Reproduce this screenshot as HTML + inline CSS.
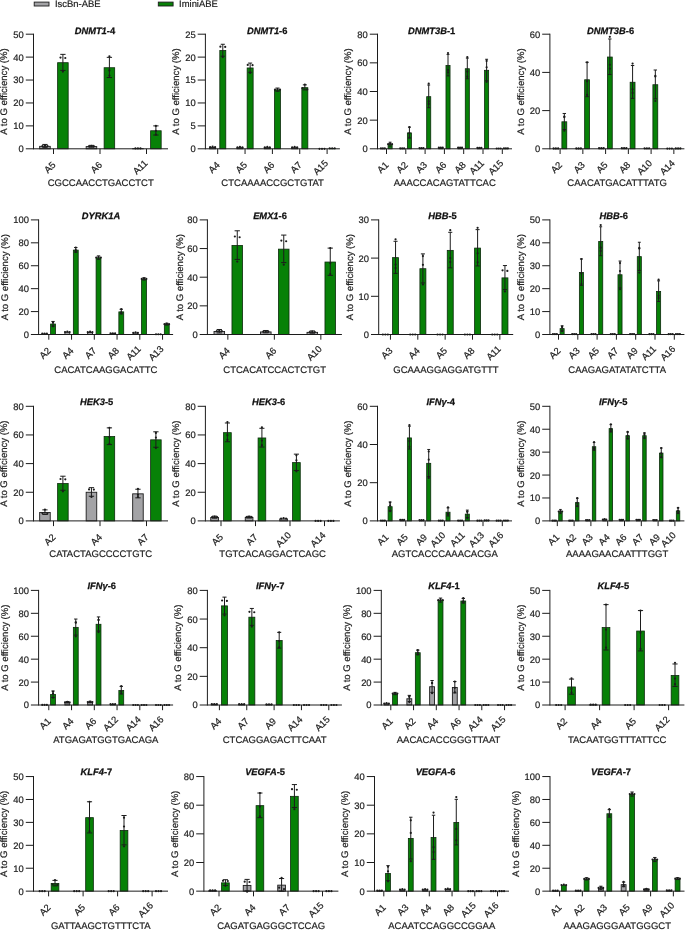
<!DOCTYPE html>
<html lang="en">
<head>
<meta charset="utf-8">
<title>A to G efficiency: IscBn-ABE vs IminiABE</title>
<style>
html,body{margin:0;padding:0;background:#fff;}
body{width:685px;height:930px;overflow:hidden;}
svg{display:block;}
text{text-rendering:geometricPrecision;}
.t{font-family:"Liberation Sans",Arial,sans-serif;font-size:9.42px;fill:#222222;stroke:#222222;stroke-width:0.2px;}
.tb{font-family:"Liberation Sans",Arial,sans-serif;font-size:9.33px;font-weight:bold;fill:#111;stroke:#111;stroke-width:0.25px;}
</style>
</head>
<body>
<svg width="685" height="930" viewBox="0 0 685 930">
<rect width="685" height="930" fill="#fff"/>
<g>
<rect x="34.2" y="2.1" width="14.8" height="3.9" fill="#a3a3a6" stroke="#1c1c1c" stroke-width="0.9"/>
<text x="55" y="7" class="t">IscBn-ABE</text>
<rect x="158.3" y="2.1" width="14.8" height="3.9" fill="#078107" stroke="#1c1c1c" stroke-width="0.9"/>
<text x="179.1" y="7" class="t">IminiABE</text>
</g>
<g>
<rect x="39.67" y="146.35" width="10.56" height="2.45" fill="#a3a3a6" stroke="#1c1c1c" stroke-width="0.9"/>
<path d="M44.95 144.45V147.65M42.3 144.45H47.6M42.3 147.65H47.6" stroke="#1c1c1c" stroke-width="1" fill="none"/>
<circle cx="42.45" cy="146.05" r="1.1" fill="#1c1c1c"/>
<circle cx="44.95" cy="145.55" r="1.1" fill="#1c1c1c"/>
<circle cx="47.45" cy="146.05" r="1.1" fill="#1c1c1c"/>
<rect x="57.62" y="62.69" width="10.56" height="86.11" fill="#078107" stroke="#0d2a0d" stroke-width="0.8"/>
<path d="M62.9 54.37V70.41M60.25 54.37H65.55M60.25 70.41H65.55" stroke="#1c1c1c" stroke-width="1" fill="none"/>
<circle cx="60.5" cy="57.58" r="1.1" fill="#1c1c1c"/>
<circle cx="65.3" cy="57.98" r="1.1" fill="#1c1c1c"/>
<circle cx="62.9" cy="71.62" r="1.1" fill="#1c1c1c"/>
<rect x="86.17" y="146.58" width="10.56" height="2.22" fill="#a3a3a6" stroke="#1c1c1c" stroke-width="0.9"/>
<path d="M91.45 145.36V147.2M88.8 145.36H94.1M88.8 147.2H94.1" stroke="#1c1c1c" stroke-width="1" fill="none"/>
<circle cx="88.95" cy="146.28" r="1.1" fill="#1c1c1c"/>
<circle cx="91.45" cy="145.78" r="1.1" fill="#1c1c1c"/>
<circle cx="93.95" cy="146.28" r="1.1" fill="#1c1c1c"/>
<rect x="104.12" y="67.73" width="10.56" height="81.07" fill="#078107" stroke="#0d2a0d" stroke-width="0.8"/>
<path d="M109.4 57.35V77.52M106.75 57.35H112.05M106.75 77.52H112.05" stroke="#1c1c1c" stroke-width="1" fill="none"/>
<circle cx="109.4" cy="56.34" r="1.1" fill="#1c1c1c"/>
<circle cx="109.4" cy="70.46" r="1.1" fill="#1c1c1c"/>
<circle cx="109.4" cy="75.5" r="1.1" fill="#1c1c1c"/>
<rect x="132.67" y="148.64" width="10.56" height="0.16" fill="#a3a3a6" stroke="#1c1c1c" stroke-width="0.9"/>
<circle cx="135.45" cy="148.34" r="1.1" fill="#1c1c1c"/>
<circle cx="137.95" cy="148.34" r="1.1" fill="#1c1c1c"/>
<circle cx="140.45" cy="148.34" r="1.1" fill="#1c1c1c"/>
<rect x="150.62" y="130.76" width="10.56" height="18.04" fill="#078107" stroke="#0d2a0d" stroke-width="0.8"/>
<path d="M155.9 125.88V135.05M153.25 125.88H158.55M153.25 135.05H158.55" stroke="#1c1c1c" stroke-width="1" fill="none"/>
<circle cx="155.9" cy="125.88" r="1.1" fill="#1c1c1c"/>
<circle cx="155.9" cy="130.92" r="1.1" fill="#1c1c1c"/>
<circle cx="155.9" cy="134.59" r="1.1" fill="#1c1c1c"/>
<path d="M33.5 33.7V149.3M25.8 148.8H168" stroke="#1c1c1c" stroke-width="1" fill="none"/>
<text x="23.8" y="152.25" text-anchor="end" class="t">0</text>
<text x="23.8" y="129.33" text-anchor="end" class="t">10</text>
<text x="23.8" y="106.41" text-anchor="end" class="t">20</text>
<text x="23.8" y="83.49" text-anchor="end" class="t">30</text>
<text x="23.8" y="60.57" text-anchor="end" class="t">40</text>
<text x="23.8" y="37.65" text-anchor="end" class="t">50</text>
<text transform="translate(56.18 165.66) rotate(-45)" text-anchor="end" class="t">A5</text>
<text transform="translate(102.68 165.66) rotate(-45)" text-anchor="end" class="t">A6</text>
<text transform="translate(148.18 163.77) rotate(-45)" text-anchor="end" class="t">A11</text>
<path d="M25.8 125.88H33.5M25.8 102.96H33.5M25.8 80.04H33.5M25.8 57.12H33.5M25.8 34.2H33.5M53.5 148.8V154M100 148.8V154M146.5 148.8V154" stroke="#1c1c1c" stroke-width="1" fill="none"/>
<text transform="translate(7.4 91.5) rotate(-90)" text-anchor="middle" class="t" style="font-size:9.55px">A to G efficiency (%)</text>
<text x="94.9" y="33.6" text-anchor="middle" class="tb"><tspan font-style="italic">DNMT1</tspan>-4</text>
<text x="100.75" y="186.3" text-anchor="middle" class="t" style="font-size:9.5px">CGCCAACCTGACCTCT</text>
</g>
<g>
<rect x="209.61" y="147.5" width="5.98" height="1.3" fill="#a3a3a6" stroke="#1c1c1c" stroke-width="0.9"/>
<circle cx="210.1" cy="147.2" r="1.1" fill="#1c1c1c"/>
<circle cx="212.6" cy="146.7" r="1.1" fill="#1c1c1c"/>
<circle cx="215.1" cy="147.2" r="1.1" fill="#1c1c1c"/>
<rect x="219.81" y="50.54" width="5.98" height="98.26" fill="#078107" stroke="#0d2a0d" stroke-width="0.8"/>
<path d="M222.8 44.28V56.2M220.76 44.28H224.84M220.76 56.2H224.84" stroke="#1c1c1c" stroke-width="1" fill="none"/>
<circle cx="220.4" cy="46.67" r="1.1" fill="#1c1c1c"/>
<circle cx="225.2" cy="46.97" r="1.1" fill="#1c1c1c"/>
<circle cx="222.8" cy="57.1" r="1.1" fill="#1c1c1c"/>
<rect x="236.96" y="147.72" width="5.98" height="1.08" fill="#a3a3a6" stroke="#1c1c1c" stroke-width="0.9"/>
<circle cx="237.45" cy="147.42" r="1.1" fill="#1c1c1c"/>
<circle cx="239.95" cy="146.92" r="1.1" fill="#1c1c1c"/>
<circle cx="242.45" cy="147.42" r="1.1" fill="#1c1c1c"/>
<rect x="247.16" y="67.96" width="5.98" height="80.84" fill="#078107" stroke="#0d2a0d" stroke-width="0.8"/>
<path d="M250.15 63.08V72.25M248.11 63.08H252.19M248.11 72.25H252.19" stroke="#1c1c1c" stroke-width="1" fill="none"/>
<circle cx="247.75" cy="64.91" r="1.1" fill="#1c1c1c"/>
<circle cx="252.55" cy="65.14" r="1.1" fill="#1c1c1c"/>
<circle cx="250.15" cy="72.93" r="1.1" fill="#1c1c1c"/>
<rect x="264.31" y="147.72" width="5.98" height="1.08" fill="#a3a3a6" stroke="#1c1c1c" stroke-width="0.9"/>
<circle cx="264.8" cy="147.42" r="1.1" fill="#1c1c1c"/>
<circle cx="267.3" cy="146.92" r="1.1" fill="#1c1c1c"/>
<circle cx="269.8" cy="147.42" r="1.1" fill="#1c1c1c"/>
<rect x="274.51" y="89.97" width="5.98" height="58.83" fill="#078107" stroke="#0d2a0d" stroke-width="0.8"/>
<path d="M277.5 88.06V91.27M275.46 88.06H279.54M275.46 91.27H279.54" stroke="#1c1c1c" stroke-width="1" fill="none"/>
<circle cx="275" cy="89.67" r="1.1" fill="#1c1c1c"/>
<circle cx="277.5" cy="89.17" r="1.1" fill="#1c1c1c"/>
<circle cx="280" cy="89.67" r="1.1" fill="#1c1c1c"/>
<rect x="291.66" y="147.72" width="5.98" height="1.08" fill="#a3a3a6" stroke="#1c1c1c" stroke-width="0.9"/>
<circle cx="292.15" cy="147.42" r="1.1" fill="#1c1c1c"/>
<circle cx="294.65" cy="146.92" r="1.1" fill="#1c1c1c"/>
<circle cx="297.15" cy="147.42" r="1.1" fill="#1c1c1c"/>
<rect x="301.86" y="87.67" width="5.98" height="61.13" fill="#078107" stroke="#0d2a0d" stroke-width="0.8"/>
<path d="M304.85 84.85V89.9M302.81 84.85H306.89M302.81 89.9H306.89" stroke="#1c1c1c" stroke-width="1" fill="none"/>
<circle cx="304.85" cy="84.6" r="1.1" fill="#1c1c1c"/>
<circle cx="302.45" cy="88.13" r="1.1" fill="#1c1c1c"/>
<circle cx="307.25" cy="89.39" r="1.1" fill="#1c1c1c"/>
<circle cx="319.5" cy="148.8" r="1.1" fill="#1c1c1c"/>
<circle cx="322" cy="148.8" r="1.1" fill="#1c1c1c"/>
<circle cx="324.5" cy="148.8" r="1.1" fill="#1c1c1c"/>
<rect x="329.21" y="148.55" width="5.98" height="0.25" fill="#078107" stroke="#0d2a0d" stroke-width="0.8"/>
<circle cx="329.7" cy="148.25" r="1.1" fill="#1c1c1c"/>
<circle cx="332.2" cy="148.25" r="1.1" fill="#1c1c1c"/>
<circle cx="334.7" cy="148.25" r="1.1" fill="#1c1c1c"/>
<path d="M205.4 33.7V149.3M197.7 148.8H339.9" stroke="#1c1c1c" stroke-width="1" fill="none"/>
<text x="195.7" y="152.25" text-anchor="end" class="t">0</text>
<text x="195.7" y="129.33" text-anchor="end" class="t">5</text>
<text x="195.7" y="106.41" text-anchor="end" class="t">10</text>
<text x="195.7" y="83.49" text-anchor="end" class="t">15</text>
<text x="195.7" y="60.57" text-anchor="end" class="t">20</text>
<text x="195.7" y="37.65" text-anchor="end" class="t">25</text>
<text transform="translate(220.38 165.66) rotate(-45)" text-anchor="end" class="t">A4</text>
<text transform="translate(247.73 165.66) rotate(-45)" text-anchor="end" class="t">A5</text>
<text transform="translate(275.08 165.66) rotate(-45)" text-anchor="end" class="t">A6</text>
<text transform="translate(302.43 165.66) rotate(-45)" text-anchor="end" class="t">A7</text>
<text transform="translate(328.78 163.77) rotate(-45)" text-anchor="end" class="t">A15</text>
<path d="M197.7 125.88H205.4M197.7 102.96H205.4M197.7 80.04H205.4M197.7 57.12H205.4M197.7 34.2H205.4M217.7 148.8V154M245.05 148.8V154M272.4 148.8V154M299.75 148.8V154M327.1 148.8V154" stroke="#1c1c1c" stroke-width="1" fill="none"/>
<text transform="translate(179.3 91.5) rotate(-90)" text-anchor="middle" class="t" style="font-size:9.55px">A to G efficiency (%)</text>
<text x="267.2" y="33.6" text-anchor="middle" class="tb"><tspan font-style="italic">DNMT1</tspan>-6</text>
<text x="272.65" y="186.3" text-anchor="middle" class="t" style="font-size:9.5px">CTCAAAACCGCTGTAT</text>
</g>
<g>
<rect x="380.86" y="148.67" width="4.06" height="0.13" fill="#a3a3a6" stroke="#1c1c1c" stroke-width="0.9"/>
<circle cx="380.93" cy="148.37" r="1.1" fill="#1c1c1c"/>
<circle cx="382.89" cy="148.37" r="1.1" fill="#1c1c1c"/>
<circle cx="384.84" cy="148.37" r="1.1" fill="#1c1c1c"/>
<rect x="388.08" y="144.52" width="4.06" height="4.28" fill="#078107" stroke="#0d2a0d" stroke-width="0.8"/>
<path d="M390.11 142.21V146.22M388.67 142.21H391.56M388.67 146.22H391.56" stroke="#1c1c1c" stroke-width="1" fill="none"/>
<circle cx="388.16" cy="144.22" r="1.1" fill="#1c1c1c"/>
<circle cx="390.11" cy="143.72" r="1.1" fill="#1c1c1c"/>
<circle cx="392.07" cy="144.22" r="1.1" fill="#1c1c1c"/>
<rect x="400.16" y="148.67" width="4.06" height="0.13" fill="#a3a3a6" stroke="#1c1c1c" stroke-width="0.9"/>
<circle cx="400.23" cy="148.37" r="1.1" fill="#1c1c1c"/>
<circle cx="402.19" cy="148.37" r="1.1" fill="#1c1c1c"/>
<circle cx="404.14" cy="148.37" r="1.1" fill="#1c1c1c"/>
<rect x="407.38" y="132.91" width="4.06" height="15.89" fill="#078107" stroke="#0d2a0d" stroke-width="0.8"/>
<path d="M409.41 127.17V138.06M407.97 127.17H410.86M407.97 138.06H410.86" stroke="#1c1c1c" stroke-width="1" fill="none"/>
<circle cx="409.41" cy="127.17" r="1.1" fill="#1c1c1c"/>
<circle cx="409.41" cy="133.16" r="1.1" fill="#1c1c1c"/>
<circle cx="409.41" cy="137.51" r="1.1" fill="#1c1c1c"/>
<rect x="419.46" y="148.38" width="4.06" height="0.42" fill="#a3a3a6" stroke="#1c1c1c" stroke-width="0.9"/>
<circle cx="419.53" cy="148.08" r="1.1" fill="#1c1c1c"/>
<circle cx="421.49" cy="148.08" r="1.1" fill="#1c1c1c"/>
<circle cx="423.44" cy="148.08" r="1.1" fill="#1c1c1c"/>
<rect x="426.68" y="96.67" width="4.06" height="52.13" fill="#078107" stroke="#0d2a0d" stroke-width="0.8"/>
<path d="M428.71 85.05V107.69M427.27 85.05H430.16M427.27 107.69H430.16" stroke="#1c1c1c" stroke-width="1" fill="none"/>
<circle cx="428.71" cy="83.7" r="1.1" fill="#1c1c1c"/>
<circle cx="428.71" cy="101.46" r="1.1" fill="#1c1c1c"/>
<circle cx="428.71" cy="103.95" r="1.1" fill="#1c1c1c"/>
<rect x="438.76" y="147.95" width="4.06" height="0.85" fill="#a3a3a6" stroke="#1c1c1c" stroke-width="0.9"/>
<circle cx="438.83" cy="147.65" r="1.1" fill="#1c1c1c"/>
<circle cx="440.79" cy="147.65" r="1.1" fill="#1c1c1c"/>
<circle cx="442.74" cy="147.65" r="1.1" fill="#1c1c1c"/>
<rect x="445.98" y="65.44" width="4.06" height="83.36" fill="#078107" stroke="#0d2a0d" stroke-width="0.8"/>
<path d="M448.01 54.4V75.89M446.57 54.4H449.46M446.57 75.89H449.46" stroke="#1c1c1c" stroke-width="1" fill="none"/>
<circle cx="448.01" cy="53.11" r="1.1" fill="#1c1c1c"/>
<circle cx="448.01" cy="69.98" r="1.1" fill="#1c1c1c"/>
<circle cx="448.01" cy="72.34" r="1.1" fill="#1c1c1c"/>
<rect x="458.06" y="147.95" width="4.06" height="0.85" fill="#a3a3a6" stroke="#1c1c1c" stroke-width="0.9"/>
<circle cx="458.13" cy="147.65" r="1.1" fill="#1c1c1c"/>
<circle cx="460.09" cy="147.65" r="1.1" fill="#1c1c1c"/>
<circle cx="462.04" cy="147.65" r="1.1" fill="#1c1c1c"/>
<rect x="465.28" y="68.74" width="4.06" height="80.06" fill="#078107" stroke="#0d2a0d" stroke-width="0.8"/>
<path d="M467.31 58.12V78.75M465.87 58.12H468.76M465.87 78.75H468.76" stroke="#1c1c1c" stroke-width="1" fill="none"/>
<circle cx="467.31" cy="57.09" r="1.1" fill="#1c1c1c"/>
<circle cx="467.31" cy="71.53" r="1.1" fill="#1c1c1c"/>
<circle cx="467.31" cy="76.69" r="1.1" fill="#1c1c1c"/>
<rect x="477.36" y="148.1" width="4.06" height="0.7" fill="#a3a3a6" stroke="#1c1c1c" stroke-width="0.9"/>
<circle cx="477.43" cy="147.8" r="1.1" fill="#1c1c1c"/>
<circle cx="479.39" cy="147.8" r="1.1" fill="#1c1c1c"/>
<circle cx="481.34" cy="147.8" r="1.1" fill="#1c1c1c"/>
<rect x="484.58" y="70.31" width="4.06" height="78.49" fill="#078107" stroke="#0d2a0d" stroke-width="0.8"/>
<path d="M486.61 59.27V80.76M485.17 59.27H488.06M485.17 80.76H488.06" stroke="#1c1c1c" stroke-width="1" fill="none"/>
<circle cx="486.61" cy="60.88" r="1.1" fill="#1c1c1c"/>
<circle cx="486.61" cy="67.33" r="1.1" fill="#1c1c1c"/>
<circle cx="486.61" cy="81.83" r="1.1" fill="#1c1c1c"/>
<rect x="496.66" y="148.81" width="4.06" height="-0.01" fill="#a3a3a6" stroke="#1c1c1c" stroke-width="0.9"/>
<circle cx="496.73" cy="148.51" r="1.1" fill="#1c1c1c"/>
<circle cx="498.69" cy="148.51" r="1.1" fill="#1c1c1c"/>
<circle cx="500.64" cy="148.51" r="1.1" fill="#1c1c1c"/>
<rect x="503.88" y="148.67" width="4.06" height="0.13" fill="#078107" stroke="#0d2a0d" stroke-width="0.8"/>
<circle cx="503.96" cy="148.37" r="1.1" fill="#1c1c1c"/>
<circle cx="505.91" cy="148.37" r="1.1" fill="#1c1c1c"/>
<circle cx="507.87" cy="148.37" r="1.1" fill="#1c1c1c"/>
<path d="M377.5 33.7V149.3M369.8 148.8H512" stroke="#1c1c1c" stroke-width="1" fill="none"/>
<text x="367.8" y="152.25" text-anchor="end" class="t">0</text>
<text x="367.8" y="123.6" text-anchor="end" class="t">20</text>
<text x="367.8" y="94.95" text-anchor="end" class="t">40</text>
<text x="367.8" y="66.3" text-anchor="end" class="t">60</text>
<text x="367.8" y="37.65" text-anchor="end" class="t">80</text>
<text transform="translate(389.18 165.66) rotate(-45)" text-anchor="end" class="t">A1</text>
<text transform="translate(408.48 165.66) rotate(-45)" text-anchor="end" class="t">A2</text>
<text transform="translate(427.78 165.66) rotate(-45)" text-anchor="end" class="t">A3</text>
<text transform="translate(447.08 165.66) rotate(-45)" text-anchor="end" class="t">A6</text>
<text transform="translate(466.38 165.66) rotate(-45)" text-anchor="end" class="t">A8</text>
<text transform="translate(484.68 163.77) rotate(-45)" text-anchor="end" class="t">A11</text>
<text transform="translate(503.98 163.77) rotate(-45)" text-anchor="end" class="t">A15</text>
<path d="M369.8 120.15H377.5M369.8 91.5H377.5M369.8 62.85H377.5M369.8 34.2H377.5M386.5 148.8V154M405.8 148.8V154M425.1 148.8V154M444.4 148.8V154M463.7 148.8V154M483 148.8V154M502.3 148.8V154" stroke="#1c1c1c" stroke-width="1" fill="none"/>
<text transform="translate(351.4 91.5) rotate(-90)" text-anchor="middle" class="t" style="font-size:9.55px">A to G efficiency (%)</text>
<text x="431.6" y="33.6" text-anchor="middle" class="tb"><tspan font-style="italic">DNMT3B</tspan>-1</text>
<text x="444.75" y="186.3" text-anchor="middle" class="t" style="font-size:9.5px">AAACCACAGTATTCAC</text>
</g>
<g>
<rect x="553.44" y="148.72" width="4.86" height="0.08" fill="#a3a3a6" stroke="#1c1c1c" stroke-width="0.9"/>
<circle cx="553.58" cy="148.42" r="1.1" fill="#1c1c1c"/>
<circle cx="555.87" cy="148.42" r="1.1" fill="#1c1c1c"/>
<circle cx="558.16" cy="148.42" r="1.1" fill="#1c1c1c"/>
<rect x="561.9" y="121.79" width="4.86" height="27.01" fill="#078107" stroke="#0d2a0d" stroke-width="0.8"/>
<path d="M564.33 113.47V129.51M562.64 113.47H566.02M562.64 129.51H566.02" stroke="#1c1c1c" stroke-width="1" fill="none"/>
<circle cx="564.33" cy="116.67" r="1.1" fill="#1c1c1c"/>
<circle cx="564.33" cy="117.07" r="1.1" fill="#1c1c1c"/>
<circle cx="564.33" cy="130.71" r="1.1" fill="#1c1c1c"/>
<rect x="576.19" y="148.72" width="4.86" height="0.08" fill="#a3a3a6" stroke="#1c1c1c" stroke-width="0.9"/>
<circle cx="576.33" cy="148.42" r="1.1" fill="#1c1c1c"/>
<circle cx="578.62" cy="148.42" r="1.1" fill="#1c1c1c"/>
<circle cx="580.91" cy="148.42" r="1.1" fill="#1c1c1c"/>
<rect x="584.65" y="79.77" width="4.86" height="69.03" fill="#078107" stroke="#0d2a0d" stroke-width="0.8"/>
<path d="M587.08 62.28V96.66M585.39 62.28H588.77M585.39 96.66H588.77" stroke="#1c1c1c" stroke-width="1" fill="none"/>
<circle cx="587.08" cy="62.28" r="1.1" fill="#1c1c1c"/>
<circle cx="587.08" cy="81.19" r="1.1" fill="#1c1c1c"/>
<circle cx="587.08" cy="94.94" r="1.1" fill="#1c1c1c"/>
<rect x="598.94" y="148.34" width="4.86" height="0.46" fill="#a3a3a6" stroke="#1c1c1c" stroke-width="0.9"/>
<circle cx="599.08" cy="148.04" r="1.1" fill="#1c1c1c"/>
<circle cx="601.37" cy="148.04" r="1.1" fill="#1c1c1c"/>
<circle cx="603.66" cy="148.04" r="1.1" fill="#1c1c1c"/>
<rect x="607.4" y="57.04" width="4.86" height="91.76" fill="#078107" stroke="#0d2a0d" stroke-width="0.8"/>
<path d="M609.83 38.98V74.5M608.14 38.98H611.52M608.14 74.5H611.52" stroke="#1c1c1c" stroke-width="1" fill="none"/>
<circle cx="609.83" cy="36.84" r="1.1" fill="#1c1c1c"/>
<circle cx="609.83" cy="64.73" r="1.1" fill="#1c1c1c"/>
<circle cx="609.83" cy="68.64" r="1.1" fill="#1c1c1c"/>
<rect x="621.69" y="148.34" width="4.86" height="0.46" fill="#a3a3a6" stroke="#1c1c1c" stroke-width="0.9"/>
<circle cx="621.83" cy="148.04" r="1.1" fill="#1c1c1c"/>
<circle cx="624.12" cy="148.04" r="1.1" fill="#1c1c1c"/>
<circle cx="626.41" cy="148.04" r="1.1" fill="#1c1c1c"/>
<rect x="630.15" y="82.25" width="4.86" height="66.55" fill="#078107" stroke="#0d2a0d" stroke-width="0.8"/>
<path d="M632.58 65.52V98.38M630.89 65.52H634.27M630.89 98.38H634.27" stroke="#1c1c1c" stroke-width="1" fill="none"/>
<circle cx="632.58" cy="63.55" r="1.1" fill="#1c1c1c"/>
<circle cx="632.58" cy="89.34" r="1.1" fill="#1c1c1c"/>
<circle cx="632.58" cy="92.96" r="1.1" fill="#1c1c1c"/>
<rect x="644.44" y="148.53" width="4.86" height="0.27" fill="#a3a3a6" stroke="#1c1c1c" stroke-width="0.9"/>
<circle cx="644.58" cy="148.23" r="1.1" fill="#1c1c1c"/>
<circle cx="646.87" cy="148.23" r="1.1" fill="#1c1c1c"/>
<circle cx="649.16" cy="148.23" r="1.1" fill="#1c1c1c"/>
<rect x="652.9" y="84.73" width="4.86" height="64.07" fill="#078107" stroke="#0d2a0d" stroke-width="0.8"/>
<path d="M655.33 70.01V98.85M653.64 70.01H657.02M653.64 98.85H657.02" stroke="#1c1c1c" stroke-width="1" fill="none"/>
<circle cx="655.33" cy="75.78" r="1.1" fill="#1c1c1c"/>
<circle cx="655.33" cy="76.5" r="1.1" fill="#1c1c1c"/>
<circle cx="655.33" cy="101.02" r="1.1" fill="#1c1c1c"/>
<circle cx="667.33" cy="148.61" r="1.1" fill="#1c1c1c"/>
<circle cx="669.62" cy="148.61" r="1.1" fill="#1c1c1c"/>
<circle cx="671.91" cy="148.61" r="1.1" fill="#1c1c1c"/>
<rect x="675.65" y="148.72" width="4.86" height="0.08" fill="#078107" stroke="#0d2a0d" stroke-width="0.8"/>
<circle cx="675.79" cy="148.42" r="1.1" fill="#1c1c1c"/>
<circle cx="678.08" cy="148.42" r="1.1" fill="#1c1c1c"/>
<circle cx="680.37" cy="148.42" r="1.1" fill="#1c1c1c"/>
<path d="M549.9 33.7V149.3M542.2 148.8H684.4" stroke="#1c1c1c" stroke-width="1" fill="none"/>
<text x="540.2" y="152.25" text-anchor="end" class="t">0</text>
<text x="540.2" y="114.05" text-anchor="end" class="t">20</text>
<text x="540.2" y="75.85" text-anchor="end" class="t">40</text>
<text x="540.2" y="37.65" text-anchor="end" class="t">60</text>
<text transform="translate(562.78 165.66) rotate(-45)" text-anchor="end" class="t">A2</text>
<text transform="translate(585.53 165.66) rotate(-45)" text-anchor="end" class="t">A3</text>
<text transform="translate(608.28 165.66) rotate(-45)" text-anchor="end" class="t">A5</text>
<text transform="translate(631.03 165.66) rotate(-45)" text-anchor="end" class="t">A8</text>
<text transform="translate(652.78 163.77) rotate(-45)" text-anchor="end" class="t">A10</text>
<text transform="translate(675.53 163.77) rotate(-45)" text-anchor="end" class="t">A14</text>
<path d="M542.2 110.6H549.9M542.2 72.4H549.9M542.2 34.2H549.9M560.1 148.8V154M582.85 148.8V154M605.6 148.8V154M628.35 148.8V154M651.1 148.8V154M673.85 148.8V154" stroke="#1c1c1c" stroke-width="1" fill="none"/>
<text transform="translate(523.8 91.5) rotate(-90)" text-anchor="middle" class="t" style="font-size:9.55px">A to G efficiency (%)</text>
<text x="610.5" y="33.6" text-anchor="middle" class="tb"><tspan font-style="italic">DNMT3B</tspan>-6</text>
<text x="617.15" y="186.3" text-anchor="middle" class="t" style="font-size:9.5px">CAACATGACATTTATG</text>
</g>
<g>
<rect x="42.14" y="334" width="4.86" height="0.5" fill="#a3a3a6" stroke="#1c1c1c" stroke-width="0.9"/>
<circle cx="42.28" cy="333.7" r="1.1" fill="#1c1c1c"/>
<circle cx="44.57" cy="333.7" r="1.1" fill="#1c1c1c"/>
<circle cx="46.86" cy="333.7" r="1.1" fill="#1c1c1c"/>
<rect x="50.6" y="324.03" width="4.86" height="10.47" fill="#078107" stroke="#0d2a0d" stroke-width="0.8"/>
<path d="M53.03 321.44V326.02M51.34 321.44H54.72M51.34 326.02H54.72" stroke="#1c1c1c" stroke-width="1" fill="none"/>
<circle cx="53.03" cy="322.35" r="1.1" fill="#1c1c1c"/>
<circle cx="53.03" cy="322.47" r="1.1" fill="#1c1c1c"/>
<circle cx="53.03" cy="326.36" r="1.1" fill="#1c1c1c"/>
<rect x="64.89" y="332.28" width="4.86" height="2.22" fill="#a3a3a6" stroke="#1c1c1c" stroke-width="0.9"/>
<circle cx="65.03" cy="331.98" r="1.1" fill="#1c1c1c"/>
<circle cx="67.32" cy="331.48" r="1.1" fill="#1c1c1c"/>
<circle cx="69.61" cy="331.98" r="1.1" fill="#1c1c1c"/>
<rect x="73.35" y="250.11" width="4.86" height="84.39" fill="#078107" stroke="#0d2a0d" stroke-width="0.8"/>
<path d="M75.78 247.52V252.1M74.09 247.52H77.47M74.09 252.1H77.47" stroke="#1c1c1c" stroke-width="1" fill="none"/>
<circle cx="75.78" cy="247.52" r="1.1" fill="#1c1c1c"/>
<circle cx="75.78" cy="250.04" r="1.1" fill="#1c1c1c"/>
<circle cx="75.78" cy="251.87" r="1.1" fill="#1c1c1c"/>
<rect x="87.64" y="332.51" width="4.86" height="1.99" fill="#a3a3a6" stroke="#1c1c1c" stroke-width="0.9"/>
<circle cx="87.78" cy="332.21" r="1.1" fill="#1c1c1c"/>
<circle cx="90.07" cy="331.71" r="1.1" fill="#1c1c1c"/>
<circle cx="92.36" cy="332.21" r="1.1" fill="#1c1c1c"/>
<rect x="96.1" y="257.9" width="4.86" height="76.6" fill="#078107" stroke="#0d2a0d" stroke-width="0.8"/>
<path d="M98.53 255.88V259.32M96.84 255.88H100.22M96.84 259.32H100.22" stroke="#1c1c1c" stroke-width="1" fill="none"/>
<circle cx="96.24" cy="257.6" r="1.1" fill="#1c1c1c"/>
<circle cx="98.53" cy="257.1" r="1.1" fill="#1c1c1c"/>
<circle cx="100.82" cy="257.6" r="1.1" fill="#1c1c1c"/>
<rect x="110.39" y="333.65" width="4.86" height="0.85" fill="#a3a3a6" stroke="#1c1c1c" stroke-width="0.9"/>
<circle cx="110.53" cy="333.35" r="1.1" fill="#1c1c1c"/>
<circle cx="112.82" cy="333.35" r="1.1" fill="#1c1c1c"/>
<circle cx="115.11" cy="333.35" r="1.1" fill="#1c1c1c"/>
<rect x="118.85" y="311.88" width="4.86" height="22.62" fill="#078107" stroke="#0d2a0d" stroke-width="0.8"/>
<path d="M121.28 309.29V313.87M119.59 309.29H122.97M119.59 313.87H122.97" stroke="#1c1c1c" stroke-width="1" fill="none"/>
<circle cx="121.28" cy="309.06" r="1.1" fill="#1c1c1c"/>
<circle cx="121.28" cy="312.27" r="1.1" fill="#1c1c1c"/>
<circle cx="121.28" cy="313.41" r="1.1" fill="#1c1c1c"/>
<rect x="133.14" y="333.08" width="4.86" height="1.42" fill="#a3a3a6" stroke="#1c1c1c" stroke-width="0.9"/>
<circle cx="133.28" cy="332.78" r="1.1" fill="#1c1c1c"/>
<circle cx="135.57" cy="332.28" r="1.1" fill="#1c1c1c"/>
<circle cx="137.86" cy="332.78" r="1.1" fill="#1c1c1c"/>
<rect x="141.6" y="279.22" width="4.86" height="55.28" fill="#078107" stroke="#0d2a0d" stroke-width="0.8"/>
<path d="M144.03 277.77V280.06M142.34 277.77H145.72M142.34 280.06H145.72" stroke="#1c1c1c" stroke-width="1" fill="none"/>
<circle cx="141.74" cy="278.92" r="1.1" fill="#1c1c1c"/>
<circle cx="144.03" cy="278.42" r="1.1" fill="#1c1c1c"/>
<circle cx="146.32" cy="278.92" r="1.1" fill="#1c1c1c"/>
<circle cx="156.03" cy="334.27" r="1.1" fill="#1c1c1c"/>
<circle cx="158.32" cy="334.27" r="1.1" fill="#1c1c1c"/>
<circle cx="160.61" cy="334.27" r="1.1" fill="#1c1c1c"/>
<rect x="164.35" y="324.49" width="4.86" height="10.01" fill="#078107" stroke="#0d2a0d" stroke-width="0.8"/>
<path d="M166.78 323.27V325.1M165.09 323.27H168.47M165.09 325.1H168.47" stroke="#1c1c1c" stroke-width="1" fill="none"/>
<circle cx="164.49" cy="324.19" r="1.1" fill="#1c1c1c"/>
<circle cx="166.78" cy="323.69" r="1.1" fill="#1c1c1c"/>
<circle cx="169.07" cy="324.19" r="1.1" fill="#1c1c1c"/>
<path d="M38.6 219.4V335M30.9 334.5H173.1" stroke="#1c1c1c" stroke-width="1" fill="none"/>
<text x="28.9" y="337.95" text-anchor="end" class="t">0</text>
<text x="28.9" y="315.03" text-anchor="end" class="t">20</text>
<text x="28.9" y="292.11" text-anchor="end" class="t">40</text>
<text x="28.9" y="269.19" text-anchor="end" class="t">60</text>
<text x="28.9" y="246.27" text-anchor="end" class="t">80</text>
<text x="28.9" y="223.35" text-anchor="end" class="t">100</text>
<text transform="translate(51.48 351.36) rotate(-45)" text-anchor="end" class="t">A2</text>
<text transform="translate(74.23 351.36) rotate(-45)" text-anchor="end" class="t">A4</text>
<text transform="translate(96.98 351.36) rotate(-45)" text-anchor="end" class="t">A7</text>
<text transform="translate(119.73 351.36) rotate(-45)" text-anchor="end" class="t">A8</text>
<text transform="translate(141.48 349.47) rotate(-45)" text-anchor="end" class="t">A11</text>
<text transform="translate(164.23 349.47) rotate(-45)" text-anchor="end" class="t">A13</text>
<path d="M30.9 311.58H38.6M30.9 288.66H38.6M30.9 265.74H38.6M30.9 242.82H38.6M30.9 219.9H38.6M48.8 334.5V339.7M71.55 334.5V339.7M94.3 334.5V339.7M117.05 334.5V339.7M139.8 334.5V339.7M162.55 334.5V339.7" stroke="#1c1c1c" stroke-width="1" fill="none"/>
<text transform="translate(7.7 277.2) rotate(-90)" text-anchor="middle" class="t" style="font-size:9.55px">A to G efficiency (%)</text>
<text x="101" y="219.3" text-anchor="middle" class="tb"><tspan font-style="italic">DYRK1A</tspan></text>
<text x="105.85" y="372.5" text-anchor="middle" class="t" style="font-size:9.5px">CACATCAAGGACATTC</text>
</g>
<g>
<rect x="214.02" y="331.51" width="10.56" height="2.99" fill="#a3a3a6" stroke="#1c1c1c" stroke-width="0.9"/>
<path d="M219.3 329.49V332.92M216.65 329.49H221.95M216.65 332.92H221.95" stroke="#1c1c1c" stroke-width="1" fill="none"/>
<circle cx="216.8" cy="331.21" r="1.1" fill="#1c1c1c"/>
<circle cx="219.3" cy="330.71" r="1.1" fill="#1c1c1c"/>
<circle cx="221.8" cy="331.21" r="1.1" fill="#1c1c1c"/>
<rect x="231.97" y="245.41" width="10.56" height="89.09" fill="#078107" stroke="#0d2a0d" stroke-width="0.8"/>
<path d="M237.25 230.79V259.44M234.6 230.79H239.9M234.6 259.44H239.9" stroke="#1c1c1c" stroke-width="1" fill="none"/>
<circle cx="234.85" cy="236.52" r="1.1" fill="#1c1c1c"/>
<circle cx="239.65" cy="237.23" r="1.1" fill="#1c1c1c"/>
<circle cx="237.25" cy="261.59" r="1.1" fill="#1c1c1c"/>
<rect x="260.52" y="331.94" width="10.56" height="2.56" fill="#a3a3a6" stroke="#1c1c1c" stroke-width="0.9"/>
<path d="M265.8 330.49V332.78M263.15 330.49H268.45M263.15 332.78H268.45" stroke="#1c1c1c" stroke-width="1" fill="none"/>
<circle cx="263.3" cy="331.63" r="1.1" fill="#1c1c1c"/>
<circle cx="265.8" cy="331.13" r="1.1" fill="#1c1c1c"/>
<circle cx="268.3" cy="331.63" r="1.1" fill="#1c1c1c"/>
<rect x="278.47" y="249.14" width="10.56" height="85.36" fill="#078107" stroke="#0d2a0d" stroke-width="0.8"/>
<path d="M283.75 235.08V262.59M281.1 235.08H286.4M281.1 262.59H286.4" stroke="#1c1c1c" stroke-width="1" fill="none"/>
<circle cx="281.35" cy="240.59" r="1.1" fill="#1c1c1c"/>
<circle cx="286.15" cy="241.27" r="1.1" fill="#1c1c1c"/>
<circle cx="283.75" cy="264.65" r="1.1" fill="#1c1c1c"/>
<rect x="307.02" y="332.36" width="10.56" height="2.14" fill="#a3a3a6" stroke="#1c1c1c" stroke-width="0.9"/>
<path d="M312.3 330.92V333.21M309.65 330.92H314.95M309.65 333.21H314.95" stroke="#1c1c1c" stroke-width="1" fill="none"/>
<circle cx="309.8" cy="332.06" r="1.1" fill="#1c1c1c"/>
<circle cx="312.3" cy="331.56" r="1.1" fill="#1c1c1c"/>
<circle cx="314.8" cy="332.06" r="1.1" fill="#1c1c1c"/>
<rect x="324.97" y="262.03" width="10.56" height="72.47" fill="#078107" stroke="#0d2a0d" stroke-width="0.8"/>
<path d="M330.25 248.12V275.34M327.6 248.12H332.9M327.6 275.34H332.9" stroke="#1c1c1c" stroke-width="1" fill="none"/>
<circle cx="330.25" cy="248.12" r="1.1" fill="#1c1c1c"/>
<circle cx="330.25" cy="263.09" r="1.1" fill="#1c1c1c"/>
<circle cx="330.25" cy="273.98" r="1.1" fill="#1c1c1c"/>
<path d="M207.4 219.4V335M199.7 334.5H341.9" stroke="#1c1c1c" stroke-width="1" fill="none"/>
<text x="197.7" y="337.95" text-anchor="end" class="t">0</text>
<text x="197.7" y="309.3" text-anchor="end" class="t">20</text>
<text x="197.7" y="280.65" text-anchor="end" class="t">40</text>
<text x="197.7" y="252" text-anchor="end" class="t">60</text>
<text x="197.7" y="223.35" text-anchor="end" class="t">80</text>
<text transform="translate(230.53 351.36) rotate(-45)" text-anchor="end" class="t">A4</text>
<text transform="translate(277.03 351.36) rotate(-45)" text-anchor="end" class="t">A6</text>
<text transform="translate(322.53 349.47) rotate(-45)" text-anchor="end" class="t">A10</text>
<path d="M199.7 305.85H207.4M199.7 277.2H207.4M199.7 248.55H207.4M199.7 219.9H207.4M227.85 334.5V339.7M274.35 334.5V339.7M320.85 334.5V339.7" stroke="#1c1c1c" stroke-width="1" fill="none"/>
<text transform="translate(183.4 277.2) rotate(-90)" text-anchor="middle" class="t" style="font-size:9.55px">A to G efficiency (%)</text>
<text x="270" y="219.3" text-anchor="middle" class="tb"><tspan font-style="italic">EMX1</tspan>-6</text>
<text x="274.65" y="372.5" text-anchor="middle" class="t" style="font-size:9.5px">CTCACATCCACTCTGT</text>
</g>
<g>
<circle cx="382.85" cy="334.5" r="1.1" fill="#1c1c1c"/>
<circle cx="385.35" cy="334.5" r="1.1" fill="#1c1c1c"/>
<circle cx="387.85" cy="334.5" r="1.1" fill="#1c1c1c"/>
<rect x="392.56" y="257.64" width="5.98" height="76.86" fill="#078107" stroke="#0d2a0d" stroke-width="0.8"/>
<path d="M395.55 241.29V273.38M393.51 241.29H397.59M393.51 273.38H397.59" stroke="#1c1c1c" stroke-width="1" fill="none"/>
<circle cx="395.55" cy="239.37" r="1.1" fill="#1c1c1c"/>
<circle cx="395.55" cy="264.56" r="1.1" fill="#1c1c1c"/>
<circle cx="395.55" cy="268.09" r="1.1" fill="#1c1c1c"/>
<circle cx="410.2" cy="334.5" r="1.1" fill="#1c1c1c"/>
<circle cx="412.7" cy="334.5" r="1.1" fill="#1c1c1c"/>
<circle cx="415.2" cy="334.5" r="1.1" fill="#1c1c1c"/>
<rect x="419.91" y="268.71" width="5.98" height="65.79" fill="#078107" stroke="#0d2a0d" stroke-width="0.8"/>
<path d="M422.9 253.9V282.93M420.86 253.9H424.94M420.86 282.93H424.94" stroke="#1c1c1c" stroke-width="1" fill="none"/>
<circle cx="422.9" cy="256.08" r="1.1" fill="#1c1c1c"/>
<circle cx="422.9" cy="264.78" r="1.1" fill="#1c1c1c"/>
<circle cx="422.9" cy="284.38" r="1.1" fill="#1c1c1c"/>
<circle cx="437.55" cy="334.5" r="1.1" fill="#1c1c1c"/>
<circle cx="440.05" cy="334.5" r="1.1" fill="#1c1c1c"/>
<circle cx="442.55" cy="334.5" r="1.1" fill="#1c1c1c"/>
<rect x="447.26" y="250.38" width="5.98" height="84.12" fill="#078107" stroke="#0d2a0d" stroke-width="0.8"/>
<path d="M450.25 232.31V267.84M448.21 232.31H452.29M448.21 267.84H452.29" stroke="#1c1c1c" stroke-width="1" fill="none"/>
<circle cx="450.25" cy="230.18" r="1.1" fill="#1c1c1c"/>
<circle cx="450.25" cy="258.07" r="1.1" fill="#1c1c1c"/>
<circle cx="450.25" cy="261.98" r="1.1" fill="#1c1c1c"/>
<circle cx="464.9" cy="334.5" r="1.1" fill="#1c1c1c"/>
<circle cx="467.4" cy="334.5" r="1.1" fill="#1c1c1c"/>
<circle cx="469.9" cy="334.5" r="1.1" fill="#1c1c1c"/>
<rect x="474.61" y="248.09" width="5.98" height="86.41" fill="#078107" stroke="#0d2a0d" stroke-width="0.8"/>
<path d="M477.6 229.64V265.93M475.56 229.64H479.64M475.56 265.93H479.64" stroke="#1c1c1c" stroke-width="1" fill="none"/>
<circle cx="477.6" cy="227.83" r="1.1" fill="#1c1c1c"/>
<circle cx="477.6" cy="253.23" r="1.1" fill="#1c1c1c"/>
<circle cx="477.6" cy="262.3" r="1.1" fill="#1c1c1c"/>
<circle cx="492.25" cy="334.5" r="1.1" fill="#1c1c1c"/>
<circle cx="494.75" cy="334.5" r="1.1" fill="#1c1c1c"/>
<circle cx="497.25" cy="334.5" r="1.1" fill="#1c1c1c"/>
<rect x="501.96" y="277.88" width="5.98" height="56.62" fill="#078107" stroke="#0d2a0d" stroke-width="0.8"/>
<path d="M504.95 265.55V289.62M502.91 265.55H506.99M502.91 289.62H506.99" stroke="#1c1c1c" stroke-width="1" fill="none"/>
<circle cx="502.55" cy="270.36" r="1.1" fill="#1c1c1c"/>
<circle cx="507.35" cy="270.96" r="1.1" fill="#1c1c1c"/>
<circle cx="504.95" cy="291.42" r="1.1" fill="#1c1c1c"/>
<path d="M378.7 219.4V335M371 334.5H513.2" stroke="#1c1c1c" stroke-width="1" fill="none"/>
<text x="369" y="337.95" text-anchor="end" class="t">0</text>
<text x="369" y="299.75" text-anchor="end" class="t">10</text>
<text x="369" y="261.55" text-anchor="end" class="t">20</text>
<text x="369" y="223.35" text-anchor="end" class="t">30</text>
<text transform="translate(393.13 351.36) rotate(-45)" text-anchor="end" class="t">A3</text>
<text transform="translate(420.48 351.36) rotate(-45)" text-anchor="end" class="t">A4</text>
<text transform="translate(447.83 351.36) rotate(-45)" text-anchor="end" class="t">A5</text>
<text transform="translate(475.18 351.36) rotate(-45)" text-anchor="end" class="t">A8</text>
<text transform="translate(501.53 349.47) rotate(-45)" text-anchor="end" class="t">A11</text>
<path d="M371 296.3H378.7M371 258.1H378.7M371 219.9H378.7M390.45 334.5V339.7M417.8 334.5V339.7M445.15 334.5V339.7M472.5 334.5V339.7M499.85 334.5V339.7" stroke="#1c1c1c" stroke-width="1" fill="none"/>
<text transform="translate(352.6 277.2) rotate(-90)" text-anchor="middle" class="t" style="font-size:9.55px">A to G efficiency (%)</text>
<text x="442.5" y="219.3" text-anchor="middle" class="tb"><tspan font-style="italic">HBB</tspan>-5</text>
<text x="445.95" y="372.5" text-anchor="middle" class="t" style="font-size:9.5px">GCAAAGGAGGATGTTT</text>
</g>
<g>
<rect x="552.86" y="334.34" width="4.06" height="0.16" fill="#a3a3a6" stroke="#1c1c1c" stroke-width="0.9"/>
<circle cx="552.93" cy="334.04" r="1.1" fill="#1c1c1c"/>
<circle cx="554.89" cy="334.04" r="1.1" fill="#1c1c1c"/>
<circle cx="556.84" cy="334.04" r="1.1" fill="#1c1c1c"/>
<rect x="560.08" y="328.61" width="4.06" height="5.89" fill="#078107" stroke="#0d2a0d" stroke-width="0.8"/>
<path d="M562.11 325.79V330.83M560.67 325.79H563.56M560.67 330.83H563.56" stroke="#1c1c1c" stroke-width="1" fill="none"/>
<circle cx="562.11" cy="326.8" r="1.1" fill="#1c1c1c"/>
<circle cx="562.11" cy="326.92" r="1.1" fill="#1c1c1c"/>
<circle cx="562.11" cy="331.21" r="1.1" fill="#1c1c1c"/>
<rect x="572.16" y="334.34" width="4.06" height="0.16" fill="#a3a3a6" stroke="#1c1c1c" stroke-width="0.9"/>
<circle cx="572.23" cy="334.04" r="1.1" fill="#1c1c1c"/>
<circle cx="574.19" cy="334.04" r="1.1" fill="#1c1c1c"/>
<circle cx="576.14" cy="334.04" r="1.1" fill="#1c1c1c"/>
<rect x="579.38" y="272.46" width="4.06" height="62.04" fill="#078107" stroke="#0d2a0d" stroke-width="0.8"/>
<path d="M581.41 258.98V285.34M579.97 258.98H582.86M579.97 285.34H582.86" stroke="#1c1c1c" stroke-width="1" fill="none"/>
<circle cx="581.41" cy="258.98" r="1.1" fill="#1c1c1c"/>
<circle cx="581.41" cy="273.48" r="1.1" fill="#1c1c1c"/>
<circle cx="581.41" cy="284.02" r="1.1" fill="#1c1c1c"/>
<rect x="591.46" y="334.34" width="4.06" height="0.16" fill="#a3a3a6" stroke="#1c1c1c" stroke-width="0.9"/>
<circle cx="591.53" cy="334.04" r="1.1" fill="#1c1c1c"/>
<circle cx="593.49" cy="334.04" r="1.1" fill="#1c1c1c"/>
<circle cx="595.44" cy="334.04" r="1.1" fill="#1c1c1c"/>
<rect x="598.68" y="241.52" width="4.06" height="92.98" fill="#078107" stroke="#0d2a0d" stroke-width="0.8"/>
<path d="M600.71 226.78V255.66M599.27 226.78H602.16M599.27 255.66H602.16" stroke="#1c1c1c" stroke-width="1" fill="none"/>
<circle cx="600.71" cy="225.04" r="1.1" fill="#1c1c1c"/>
<circle cx="600.71" cy="247.71" r="1.1" fill="#1c1c1c"/>
<circle cx="600.71" cy="250.89" r="1.1" fill="#1c1c1c"/>
<rect x="610.76" y="334.34" width="4.06" height="0.16" fill="#a3a3a6" stroke="#1c1c1c" stroke-width="0.9"/>
<circle cx="610.83" cy="334.04" r="1.1" fill="#1c1c1c"/>
<circle cx="612.79" cy="334.04" r="1.1" fill="#1c1c1c"/>
<circle cx="614.74" cy="334.04" r="1.1" fill="#1c1c1c"/>
<rect x="617.98" y="274.75" width="4.06" height="59.75" fill="#078107" stroke="#0d2a0d" stroke-width="0.8"/>
<path d="M620.01 261.04V287.86M618.57 261.04H621.46M618.57 287.86H621.46" stroke="#1c1c1c" stroke-width="1" fill="none"/>
<circle cx="620.01" cy="263.05" r="1.1" fill="#1c1c1c"/>
<circle cx="620.01" cy="271.1" r="1.1" fill="#1c1c1c"/>
<circle cx="620.01" cy="289.2" r="1.1" fill="#1c1c1c"/>
<rect x="630.06" y="334.34" width="4.06" height="0.16" fill="#a3a3a6" stroke="#1c1c1c" stroke-width="0.9"/>
<circle cx="630.13" cy="334.04" r="1.1" fill="#1c1c1c"/>
<circle cx="632.09" cy="334.04" r="1.1" fill="#1c1c1c"/>
<circle cx="634.04" cy="334.04" r="1.1" fill="#1c1c1c"/>
<rect x="637.28" y="256.64" width="4.06" height="77.86" fill="#078107" stroke="#0d2a0d" stroke-width="0.8"/>
<path d="M639.31 242.25V270.44M637.87 242.25H640.76M637.87 270.44H640.76" stroke="#1c1c1c" stroke-width="1" fill="none"/>
<circle cx="639.31" cy="247.89" r="1.1" fill="#1c1c1c"/>
<circle cx="639.31" cy="248.59" r="1.1" fill="#1c1c1c"/>
<circle cx="639.31" cy="272.55" r="1.1" fill="#1c1c1c"/>
<rect x="649.36" y="334.34" width="4.06" height="0.16" fill="#a3a3a6" stroke="#1c1c1c" stroke-width="0.9"/>
<circle cx="649.43" cy="334.04" r="1.1" fill="#1c1c1c"/>
<circle cx="651.39" cy="334.04" r="1.1" fill="#1c1c1c"/>
<circle cx="653.34" cy="334.04" r="1.1" fill="#1c1c1c"/>
<rect x="656.58" y="291.48" width="4.06" height="43.02" fill="#078107" stroke="#0d2a0d" stroke-width="0.8"/>
<path d="M658.61 280.87V301.5M657.17 280.87H660.06M657.17 301.5H660.06" stroke="#1c1c1c" stroke-width="1" fill="none"/>
<circle cx="658.61" cy="279.63" r="1.1" fill="#1c1c1c"/>
<circle cx="658.61" cy="295.82" r="1.1" fill="#1c1c1c"/>
<circle cx="658.61" cy="298.09" r="1.1" fill="#1c1c1c"/>
<rect x="668.66" y="334.34" width="4.06" height="0.16" fill="#a3a3a6" stroke="#1c1c1c" stroke-width="0.9"/>
<circle cx="668.73" cy="334.04" r="1.1" fill="#1c1c1c"/>
<circle cx="670.69" cy="334.04" r="1.1" fill="#1c1c1c"/>
<circle cx="672.64" cy="334.04" r="1.1" fill="#1c1c1c"/>
<rect x="675.88" y="334.34" width="4.06" height="0.16" fill="#078107" stroke="#0d2a0d" stroke-width="0.8"/>
<circle cx="675.96" cy="334.04" r="1.1" fill="#1c1c1c"/>
<circle cx="677.91" cy="334.04" r="1.1" fill="#1c1c1c"/>
<circle cx="679.87" cy="334.04" r="1.1" fill="#1c1c1c"/>
<path d="M549.9 219.4V335M542.2 334.5H684.4" stroke="#1c1c1c" stroke-width="1" fill="none"/>
<text x="540.2" y="337.95" text-anchor="end" class="t">0</text>
<text x="540.2" y="315.03" text-anchor="end" class="t">10</text>
<text x="540.2" y="292.11" text-anchor="end" class="t">20</text>
<text x="540.2" y="269.19" text-anchor="end" class="t">30</text>
<text x="540.2" y="246.27" text-anchor="end" class="t">40</text>
<text x="540.2" y="223.35" text-anchor="end" class="t">50</text>
<text transform="translate(561.18 351.36) rotate(-45)" text-anchor="end" class="t">A2</text>
<text transform="translate(580.48 351.36) rotate(-45)" text-anchor="end" class="t">A3</text>
<text transform="translate(599.78 351.36) rotate(-45)" text-anchor="end" class="t">A5</text>
<text transform="translate(619.08 351.36) rotate(-45)" text-anchor="end" class="t">A7</text>
<text transform="translate(638.38 351.36) rotate(-45)" text-anchor="end" class="t">A9</text>
<text transform="translate(656.68 349.47) rotate(-45)" text-anchor="end" class="t">A11</text>
<text transform="translate(675.98 349.47) rotate(-45)" text-anchor="end" class="t">A16</text>
<path d="M542.2 311.58H549.9M542.2 288.66H549.9M542.2 265.74H549.9M542.2 242.82H549.9M542.2 219.9H549.9M558.5 334.5V339.7M577.8 334.5V339.7M597.1 334.5V339.7M616.4 334.5V339.7M635.7 334.5V339.7M655 334.5V339.7M674.3 334.5V339.7" stroke="#1c1c1c" stroke-width="1" fill="none"/>
<text transform="translate(523.8 277.2) rotate(-90)" text-anchor="middle" class="t" style="font-size:9.55px">A to G efficiency (%)</text>
<text x="613.8" y="219.3" text-anchor="middle" class="tb"><tspan font-style="italic">HBB</tspan>-6</text>
<text x="617.15" y="372.5" text-anchor="middle" class="t" style="font-size:9.5px">CAAGAGATATATCTTA</text>
</g>
<g>
<rect x="39.67" y="512.46" width="10.56" height="8.44" fill="#a3a3a6" stroke="#1c1c1c" stroke-width="0.9"/>
<path d="M44.95 509.87V514.45M42.3 509.87H47.6M42.3 514.45H47.6" stroke="#1c1c1c" stroke-width="1" fill="none"/>
<circle cx="44.95" cy="509.59" r="1.1" fill="#1c1c1c"/>
<circle cx="42.55" cy="513.19" r="1.1" fill="#1c1c1c"/>
<circle cx="47.35" cy="513.7" r="1.1" fill="#1c1c1c"/>
<rect x="57.62" y="483.53" width="10.56" height="37.37" fill="#078107" stroke="#0d2a0d" stroke-width="0.8"/>
<path d="M62.9 476.21V490.24M60.25 476.21H65.55M60.25 490.24H65.55" stroke="#1c1c1c" stroke-width="1" fill="none"/>
<circle cx="60.5" cy="479.01" r="1.1" fill="#1c1c1c"/>
<circle cx="65.3" cy="479.36" r="1.1" fill="#1c1c1c"/>
<circle cx="62.9" cy="491.3" r="1.1" fill="#1c1c1c"/>
<rect x="86.17" y="492.26" width="10.56" height="28.64" fill="#a3a3a6" stroke="#1c1c1c" stroke-width="0.9"/>
<path d="M91.45 487.67V496.26M88.8 487.67H94.1M88.8 496.26H94.1" stroke="#1c1c1c" stroke-width="1" fill="none"/>
<circle cx="89.05" cy="489.38" r="1.1" fill="#1c1c1c"/>
<circle cx="93.85" cy="489.6" r="1.1" fill="#1c1c1c"/>
<circle cx="91.45" cy="496.91" r="1.1" fill="#1c1c1c"/>
<rect x="104.12" y="436.54" width="10.56" height="84.36" fill="#078107" stroke="#0d2a0d" stroke-width="0.8"/>
<path d="M109.4 427.86V444.62M106.75 427.86H112.05M106.75 444.62H112.05" stroke="#1c1c1c" stroke-width="1" fill="none"/>
<circle cx="109.4" cy="427.86" r="1.1" fill="#1c1c1c"/>
<circle cx="109.4" cy="437.08" r="1.1" fill="#1c1c1c"/>
<circle cx="109.4" cy="443.78" r="1.1" fill="#1c1c1c"/>
<rect x="132.67" y="493.84" width="10.56" height="27.06" fill="#a3a3a6" stroke="#1c1c1c" stroke-width="0.9"/>
<path d="M137.95 489.24V497.84M135.3 489.24H140.6M135.3 497.84H140.6" stroke="#1c1c1c" stroke-width="1" fill="none"/>
<circle cx="137.95" cy="488.81" r="1.1" fill="#1c1c1c"/>
<circle cx="137.95" cy="494.83" r="1.1" fill="#1c1c1c"/>
<circle cx="137.95" cy="496.98" r="1.1" fill="#1c1c1c"/>
<rect x="150.62" y="439.83" width="10.56" height="81.07" fill="#078107" stroke="#0d2a0d" stroke-width="0.8"/>
<path d="M155.9 431.8V447.27M153.25 431.8H158.55M153.25 447.27H158.55" stroke="#1c1c1c" stroke-width="1" fill="none"/>
<circle cx="155.9" cy="432.96" r="1.1" fill="#1c1c1c"/>
<circle cx="155.9" cy="437.6" r="1.1" fill="#1c1c1c"/>
<circle cx="155.9" cy="448.04" r="1.1" fill="#1c1c1c"/>
<path d="M33.5 405.8V521.4M25.8 520.9H168" stroke="#1c1c1c" stroke-width="1" fill="none"/>
<text x="23.8" y="524.35" text-anchor="end" class="t">0</text>
<text x="23.8" y="495.7" text-anchor="end" class="t">20</text>
<text x="23.8" y="467.05" text-anchor="end" class="t">40</text>
<text x="23.8" y="438.4" text-anchor="end" class="t">60</text>
<text x="23.8" y="409.75" text-anchor="end" class="t">80</text>
<text transform="translate(56.18 537.76) rotate(-45)" text-anchor="end" class="t">A2</text>
<text transform="translate(102.68 537.76) rotate(-45)" text-anchor="end" class="t">A4</text>
<text transform="translate(149.18 537.76) rotate(-45)" text-anchor="end" class="t">A7</text>
<path d="M25.8 492.25H33.5M25.8 463.6H33.5M25.8 434.95H33.5M25.8 406.3H33.5M53.5 520.9V526.1M100 520.9V526.1M146.5 520.9V526.1" stroke="#1c1c1c" stroke-width="1" fill="none"/>
<text transform="translate(7.4 463.6) rotate(-90)" text-anchor="middle" class="t" style="font-size:9.55px">A to G efficiency (%)</text>
<text x="96.7" y="405.1" text-anchor="middle" class="tb"><tspan font-style="italic">HEK3</tspan>-5</text>
<text x="100.75" y="556.7" text-anchor="middle" class="t" style="font-size:9.5px">CATACTAGCCCCTGTC</text>
</g>
<g>
<rect x="210.75" y="517.48" width="7.68" height="3.42" fill="#a3a3a6" stroke="#1c1c1c" stroke-width="0.9"/>
<path d="M214.59 516.17V518.18M212.02 516.17H217.15M212.02 518.18H217.15" stroke="#1c1c1c" stroke-width="1" fill="none"/>
<circle cx="212.09" cy="517.18" r="1.1" fill="#1c1c1c"/>
<circle cx="214.59" cy="516.68" r="1.1" fill="#1c1c1c"/>
<circle cx="217.09" cy="517.18" r="1.1" fill="#1c1c1c"/>
<rect x="223.58" y="432.67" width="7.68" height="88.23" fill="#078107" stroke="#0d2a0d" stroke-width="0.8"/>
<path d="M227.41 422.99V441.75M224.85 422.99H229.98M224.85 441.75H229.98" stroke="#1c1c1c" stroke-width="1" fill="none"/>
<circle cx="227.41" cy="422.05" r="1.1" fill="#1c1c1c"/>
<circle cx="227.41" cy="435.19" r="1.1" fill="#1c1c1c"/>
<circle cx="227.41" cy="439.88" r="1.1" fill="#1c1c1c"/>
<rect x="245.25" y="517.48" width="7.68" height="3.42" fill="#a3a3a6" stroke="#1c1c1c" stroke-width="0.9"/>
<path d="M249.09 516.32V518.03M246.52 516.32H251.65M246.52 518.03H251.65" stroke="#1c1c1c" stroke-width="1" fill="none"/>
<circle cx="246.59" cy="517.18" r="1.1" fill="#1c1c1c"/>
<circle cx="249.09" cy="516.68" r="1.1" fill="#1c1c1c"/>
<circle cx="251.59" cy="517.18" r="1.1" fill="#1c1c1c"/>
<rect x="258.08" y="437.97" width="7.68" height="82.93" fill="#078107" stroke="#0d2a0d" stroke-width="0.8"/>
<path d="M261.91 428.29V447.05M259.35 428.29H264.48M259.35 447.05H264.48" stroke="#1c1c1c" stroke-width="1" fill="none"/>
<circle cx="261.91" cy="427.35" r="1.1" fill="#1c1c1c"/>
<circle cx="261.91" cy="440.49" r="1.1" fill="#1c1c1c"/>
<circle cx="261.91" cy="445.18" r="1.1" fill="#1c1c1c"/>
<rect x="279.75" y="518.91" width="7.68" height="1.99" fill="#a3a3a6" stroke="#1c1c1c" stroke-width="0.9"/>
<circle cx="281.09" cy="518.61" r="1.1" fill="#1c1c1c"/>
<circle cx="283.59" cy="518.11" r="1.1" fill="#1c1c1c"/>
<circle cx="286.09" cy="518.61" r="1.1" fill="#1c1c1c"/>
<rect x="292.58" y="462.61" width="7.68" height="58.29" fill="#078107" stroke="#0d2a0d" stroke-width="0.8"/>
<path d="M296.41 454.15V470.48M293.85 454.15H298.98M293.85 470.48H298.98" stroke="#1c1c1c" stroke-width="1" fill="none"/>
<circle cx="296.41" cy="455.37" r="1.1" fill="#1c1c1c"/>
<circle cx="296.41" cy="460.27" r="1.1" fill="#1c1c1c"/>
<circle cx="296.41" cy="471.29" r="1.1" fill="#1c1c1c"/>
<circle cx="315.59" cy="520.9" r="1.1" fill="#1c1c1c"/>
<circle cx="318.09" cy="520.9" r="1.1" fill="#1c1c1c"/>
<circle cx="320.59" cy="520.9" r="1.1" fill="#1c1c1c"/>
<circle cx="328.41" cy="520.9" r="1.1" fill="#1c1c1c"/>
<circle cx="330.91" cy="520.9" r="1.1" fill="#1c1c1c"/>
<circle cx="333.41" cy="520.9" r="1.1" fill="#1c1c1c"/>
<path d="M205.4 405.8V521.4M197.7 520.9H339.9" stroke="#1c1c1c" stroke-width="1" fill="none"/>
<text x="195.7" y="524.35" text-anchor="end" class="t">0</text>
<text x="195.7" y="495.7" text-anchor="end" class="t">20</text>
<text x="195.7" y="467.05" text-anchor="end" class="t">40</text>
<text x="195.7" y="438.4" text-anchor="end" class="t">60</text>
<text x="195.7" y="409.75" text-anchor="end" class="t">80</text>
<text transform="translate(223.68 537.76) rotate(-45)" text-anchor="end" class="t">A5</text>
<text transform="translate(258.18 537.76) rotate(-45)" text-anchor="end" class="t">A7</text>
<text transform="translate(291.68 535.87) rotate(-45)" text-anchor="end" class="t">A10</text>
<text transform="translate(326.18 535.87) rotate(-45)" text-anchor="end" class="t">A14</text>
<path d="M197.7 492.25H205.4M197.7 463.6H205.4M197.7 434.95H205.4M197.7 406.3H205.4M221 520.9V526.1M255.5 520.9V526.1M290 520.9V526.1M324.5 520.9V526.1" stroke="#1c1c1c" stroke-width="1" fill="none"/>
<text transform="translate(179.3 463.6) rotate(-90)" text-anchor="middle" class="t" style="font-size:9.55px">A to G efficiency (%)</text>
<text x="268.7" y="405.1" text-anchor="middle" class="tb"><tspan font-style="italic">HEK3</tspan>-6</text>
<text x="272.65" y="556.7" text-anchor="middle" class="t" style="font-size:9.5px">TGTCACAGGACTCAGC</text>
</g>
<g>
<rect x="380.86" y="520.82" width="4.06" height="0.08" fill="#a3a3a6" stroke="#1c1c1c" stroke-width="0.9"/>
<circle cx="380.93" cy="520.52" r="1.1" fill="#1c1c1c"/>
<circle cx="382.89" cy="520.52" r="1.1" fill="#1c1c1c"/>
<circle cx="384.84" cy="520.52" r="1.1" fill="#1c1c1c"/>
<rect x="388.08" y="506.68" width="4.06" height="14.22" fill="#078107" stroke="#0d2a0d" stroke-width="0.8"/>
<path d="M390.11 501.99V510.78M388.67 501.99H391.56M388.67 510.78H391.56" stroke="#1c1c1c" stroke-width="1" fill="none"/>
<circle cx="390.11" cy="502.65" r="1.1" fill="#1c1c1c"/>
<circle cx="390.11" cy="505.29" r="1.1" fill="#1c1c1c"/>
<circle cx="390.11" cy="511.22" r="1.1" fill="#1c1c1c"/>
<rect x="400.16" y="520.24" width="4.06" height="0.66" fill="#a3a3a6" stroke="#1c1c1c" stroke-width="0.9"/>
<circle cx="400.23" cy="519.94" r="1.1" fill="#1c1c1c"/>
<circle cx="402.19" cy="519.94" r="1.1" fill="#1c1c1c"/>
<circle cx="404.14" cy="519.94" r="1.1" fill="#1c1c1c"/>
<rect x="407.38" y="437.92" width="4.06" height="82.98" fill="#078107" stroke="#0d2a0d" stroke-width="0.8"/>
<path d="M409.41 426.16V449.08M407.97 426.16H410.86M407.97 449.08H410.86" stroke="#1c1c1c" stroke-width="1" fill="none"/>
<circle cx="409.41" cy="425.02" r="1.1" fill="#1c1c1c"/>
<circle cx="409.41" cy="441.06" r="1.1" fill="#1c1c1c"/>
<circle cx="409.41" cy="446.79" r="1.1" fill="#1c1c1c"/>
<rect x="419.46" y="520.44" width="4.06" height="0.46" fill="#a3a3a6" stroke="#1c1c1c" stroke-width="0.9"/>
<circle cx="419.53" cy="520.14" r="1.1" fill="#1c1c1c"/>
<circle cx="421.49" cy="520.14" r="1.1" fill="#1c1c1c"/>
<circle cx="423.44" cy="520.14" r="1.1" fill="#1c1c1c"/>
<rect x="426.68" y="463.33" width="4.06" height="57.57" fill="#078107" stroke="#0d2a0d" stroke-width="0.8"/>
<path d="M428.71 449.47V476.59M427.27 449.47H430.16M427.27 476.59H430.16" stroke="#1c1c1c" stroke-width="1" fill="none"/>
<circle cx="428.71" cy="451.5" r="1.1" fill="#1c1c1c"/>
<circle cx="428.71" cy="459.64" r="1.1" fill="#1c1c1c"/>
<circle cx="428.71" cy="477.94" r="1.1" fill="#1c1c1c"/>
<rect x="438.76" y="520.82" width="4.06" height="0.08" fill="#a3a3a6" stroke="#1c1c1c" stroke-width="0.9"/>
<circle cx="438.83" cy="520.52" r="1.1" fill="#1c1c1c"/>
<circle cx="440.79" cy="520.52" r="1.1" fill="#1c1c1c"/>
<circle cx="442.74" cy="520.52" r="1.1" fill="#1c1c1c"/>
<rect x="445.98" y="512.22" width="4.06" height="8.68" fill="#078107" stroke="#0d2a0d" stroke-width="0.8"/>
<path d="M448.01 507.82V516.03M446.57 507.82H449.46M446.57 516.03H449.46" stroke="#1c1c1c" stroke-width="1" fill="none"/>
<circle cx="448.01" cy="507.32" r="1.1" fill="#1c1c1c"/>
<circle cx="448.01" cy="513.77" r="1.1" fill="#1c1c1c"/>
<circle cx="448.01" cy="514.67" r="1.1" fill="#1c1c1c"/>
<rect x="458.06" y="520.82" width="4.06" height="0.08" fill="#a3a3a6" stroke="#1c1c1c" stroke-width="0.9"/>
<circle cx="458.13" cy="520.52" r="1.1" fill="#1c1c1c"/>
<circle cx="460.09" cy="520.52" r="1.1" fill="#1c1c1c"/>
<circle cx="462.04" cy="520.52" r="1.1" fill="#1c1c1c"/>
<rect x="465.28" y="514.13" width="4.06" height="6.77" fill="#078107" stroke="#0d2a0d" stroke-width="0.8"/>
<path d="M467.31 510.11V517.56M465.87 510.11H468.76M465.87 517.56H468.76" stroke="#1c1c1c" stroke-width="1" fill="none"/>
<circle cx="467.31" cy="511.6" r="1.1" fill="#1c1c1c"/>
<circle cx="467.31" cy="511.78" r="1.1" fill="#1c1c1c"/>
<circle cx="467.31" cy="518.12" r="1.1" fill="#1c1c1c"/>
<circle cx="477.43" cy="520.71" r="1.1" fill="#1c1c1c"/>
<circle cx="479.39" cy="520.71" r="1.1" fill="#1c1c1c"/>
<circle cx="481.34" cy="520.71" r="1.1" fill="#1c1c1c"/>
<rect x="484.58" y="520.63" width="4.06" height="0.27" fill="#078107" stroke="#0d2a0d" stroke-width="0.8"/>
<circle cx="484.66" cy="520.33" r="1.1" fill="#1c1c1c"/>
<circle cx="486.61" cy="520.33" r="1.1" fill="#1c1c1c"/>
<circle cx="488.57" cy="520.33" r="1.1" fill="#1c1c1c"/>
<circle cx="496.73" cy="520.71" r="1.1" fill="#1c1c1c"/>
<circle cx="498.69" cy="520.71" r="1.1" fill="#1c1c1c"/>
<circle cx="500.64" cy="520.71" r="1.1" fill="#1c1c1c"/>
<rect x="503.88" y="520.82" width="4.06" height="0.08" fill="#078107" stroke="#0d2a0d" stroke-width="0.8"/>
<circle cx="503.96" cy="520.52" r="1.1" fill="#1c1c1c"/>
<circle cx="505.91" cy="520.52" r="1.1" fill="#1c1c1c"/>
<circle cx="507.87" cy="520.52" r="1.1" fill="#1c1c1c"/>
<path d="M377.5 405.8V521.4M369.8 520.9H512" stroke="#1c1c1c" stroke-width="1" fill="none"/>
<text x="367.8" y="524.35" text-anchor="end" class="t">0</text>
<text x="367.8" y="486.15" text-anchor="end" class="t">20</text>
<text x="367.8" y="447.95" text-anchor="end" class="t">40</text>
<text x="367.8" y="409.75" text-anchor="end" class="t">60</text>
<text transform="translate(389.18 537.76) rotate(-45)" text-anchor="end" class="t">A1</text>
<text transform="translate(408.48 537.76) rotate(-45)" text-anchor="end" class="t">A5</text>
<text transform="translate(427.78 537.76) rotate(-45)" text-anchor="end" class="t">A9</text>
<text transform="translate(446.08 535.87) rotate(-45)" text-anchor="end" class="t">A10</text>
<text transform="translate(465.38 535.87) rotate(-45)" text-anchor="end" class="t">A11</text>
<text transform="translate(484.68 535.87) rotate(-45)" text-anchor="end" class="t">A13</text>
<text transform="translate(503.98 535.87) rotate(-45)" text-anchor="end" class="t">A16</text>
<path d="M369.8 482.7H377.5M369.8 444.5H377.5M369.8 406.3H377.5M386.5 520.9V526.1M405.8 520.9V526.1M425.1 520.9V526.1M444.4 520.9V526.1M463.7 520.9V526.1M483 520.9V526.1M502.3 520.9V526.1" stroke="#1c1c1c" stroke-width="1" fill="none"/>
<text transform="translate(351.4 463.6) rotate(-90)" text-anchor="middle" class="t" style="font-size:9.55px">A to G efficiency (%)</text>
<text x="440.7" y="405.1" text-anchor="middle" class="tb"><tspan font-style="italic">IFNγ</tspan>-4</text>
<text x="444.75" y="556.7" text-anchor="middle" class="t" style="font-size:9.5px">AGTCACCCAAACACGA</text>
</g>
<g>
<circle cx="552.44" cy="520.67" r="1.1" fill="#1c1c1c"/>
<circle cx="554.15" cy="520.67" r="1.1" fill="#1c1c1c"/>
<circle cx="555.86" cy="520.67" r="1.1" fill="#1c1c1c"/>
<rect x="558.72" y="511.8" width="3.47" height="9.1" fill="#078107" stroke="#0d2a0d" stroke-width="0.8"/>
<path d="M560.45 509.44V513.57M559.19 509.44H561.72M559.19 513.57H561.72" stroke="#1c1c1c" stroke-width="1" fill="none"/>
<circle cx="558.74" cy="511.5" r="1.1" fill="#1c1c1c"/>
<circle cx="560.45" cy="511" r="1.1" fill="#1c1c1c"/>
<circle cx="562.16" cy="511.5" r="1.1" fill="#1c1c1c"/>
<circle cx="569.24" cy="520.67" r="1.1" fill="#1c1c1c"/>
<circle cx="570.95" cy="520.67" r="1.1" fill="#1c1c1c"/>
<circle cx="572.66" cy="520.67" r="1.1" fill="#1c1c1c"/>
<rect x="575.52" y="502.63" width="3.47" height="18.27" fill="#078107" stroke="#0d2a0d" stroke-width="0.8"/>
<path d="M577.25 498.21V506.46M575.99 498.21H578.52M575.99 506.46H578.52" stroke="#1c1c1c" stroke-width="1" fill="none"/>
<circle cx="577.25" cy="498.21" r="1.1" fill="#1c1c1c"/>
<circle cx="577.25" cy="502.75" r="1.1" fill="#1c1c1c"/>
<circle cx="577.25" cy="506.05" r="1.1" fill="#1c1c1c"/>
<rect x="586.01" y="520.51" width="3.47" height="0.39" fill="#a3a3a6" stroke="#1c1c1c" stroke-width="0.9"/>
<circle cx="586.04" cy="520.21" r="1.1" fill="#1c1c1c"/>
<circle cx="587.75" cy="520.21" r="1.1" fill="#1c1c1c"/>
<circle cx="589.46" cy="520.21" r="1.1" fill="#1c1c1c"/>
<rect x="592.32" y="446.71" width="3.47" height="74.19" fill="#078107" stroke="#0d2a0d" stroke-width="0.8"/>
<path d="M594.05 442.51V450.31M592.79 442.51H595.32M592.79 450.31H595.32" stroke="#1c1c1c" stroke-width="1" fill="none"/>
<circle cx="594.05" cy="442.05" r="1.1" fill="#1c1c1c"/>
<circle cx="594.05" cy="448.16" r="1.1" fill="#1c1c1c"/>
<circle cx="594.05" cy="449.02" r="1.1" fill="#1c1c1c"/>
<rect x="602.81" y="519.82" width="3.47" height="1.08" fill="#a3a3a6" stroke="#1c1c1c" stroke-width="0.9"/>
<circle cx="602.84" cy="519.52" r="1.1" fill="#1c1c1c"/>
<circle cx="604.55" cy="519.02" r="1.1" fill="#1c1c1c"/>
<circle cx="606.26" cy="519.52" r="1.1" fill="#1c1c1c"/>
<rect x="609.12" y="428.6" width="3.47" height="92.3" fill="#078107" stroke="#0d2a0d" stroke-width="0.8"/>
<path d="M610.85 424.64V431.97M609.59 424.64H612.12M609.59 431.97H612.12" stroke="#1c1c1c" stroke-width="1" fill="none"/>
<circle cx="610.85" cy="424.27" r="1.1" fill="#1c1c1c"/>
<circle cx="610.85" cy="429.4" r="1.1" fill="#1c1c1c"/>
<circle cx="610.85" cy="431.24" r="1.1" fill="#1c1c1c"/>
<rect x="619.61" y="520.05" width="3.47" height="0.85" fill="#a3a3a6" stroke="#1c1c1c" stroke-width="0.9"/>
<circle cx="619.64" cy="519.75" r="1.1" fill="#1c1c1c"/>
<circle cx="621.35" cy="519.75" r="1.1" fill="#1c1c1c"/>
<circle cx="623.06" cy="519.75" r="1.1" fill="#1c1c1c"/>
<rect x="625.92" y="435.71" width="3.47" height="85.19" fill="#078107" stroke="#0d2a0d" stroke-width="0.8"/>
<path d="M627.65 431.97V438.85M626.39 431.97H628.92M626.39 438.85H628.92" stroke="#1c1c1c" stroke-width="1" fill="none"/>
<circle cx="627.65" cy="431.97" r="1.1" fill="#1c1c1c"/>
<circle cx="627.65" cy="435.75" r="1.1" fill="#1c1c1c"/>
<circle cx="627.65" cy="438.5" r="1.1" fill="#1c1c1c"/>
<rect x="636.41" y="520.05" width="3.47" height="0.85" fill="#a3a3a6" stroke="#1c1c1c" stroke-width="0.9"/>
<circle cx="636.44" cy="519.75" r="1.1" fill="#1c1c1c"/>
<circle cx="638.15" cy="519.75" r="1.1" fill="#1c1c1c"/>
<circle cx="639.86" cy="519.75" r="1.1" fill="#1c1c1c"/>
<rect x="642.72" y="435.71" width="3.47" height="85.19" fill="#078107" stroke="#0d2a0d" stroke-width="0.8"/>
<path d="M644.45 432.89V437.93M643.19 432.89H645.72M643.19 437.93H645.72" stroke="#1c1c1c" stroke-width="1" fill="none"/>
<circle cx="644.45" cy="433.27" r="1.1" fill="#1c1c1c"/>
<circle cx="644.45" cy="434.78" r="1.1" fill="#1c1c1c"/>
<circle cx="644.45" cy="438.18" r="1.1" fill="#1c1c1c"/>
<rect x="653.21" y="520.28" width="3.47" height="0.62" fill="#a3a3a6" stroke="#1c1c1c" stroke-width="0.9"/>
<circle cx="653.24" cy="519.98" r="1.1" fill="#1c1c1c"/>
<circle cx="654.95" cy="519.98" r="1.1" fill="#1c1c1c"/>
<circle cx="656.66" cy="519.98" r="1.1" fill="#1c1c1c"/>
<rect x="659.52" y="453.13" width="3.47" height="67.77" fill="#078107" stroke="#0d2a0d" stroke-width="0.8"/>
<path d="M661.25 448.01V457.64M659.99 448.01H662.52M659.99 457.64H662.52" stroke="#1c1c1c" stroke-width="1" fill="none"/>
<circle cx="661.25" cy="448.01" r="1.1" fill="#1c1c1c"/>
<circle cx="661.25" cy="453.31" r="1.1" fill="#1c1c1c"/>
<circle cx="661.25" cy="457.16" r="1.1" fill="#1c1c1c"/>
<circle cx="670.04" cy="520.67" r="1.1" fill="#1c1c1c"/>
<circle cx="671.75" cy="520.67" r="1.1" fill="#1c1c1c"/>
<circle cx="673.46" cy="520.67" r="1.1" fill="#1c1c1c"/>
<rect x="676.32" y="510.89" width="3.47" height="10.01" fill="#078107" stroke="#0d2a0d" stroke-width="0.8"/>
<path d="M678.05 507.84V513.34M676.79 507.84H679.32M676.79 513.34H679.32" stroke="#1c1c1c" stroke-width="1" fill="none"/>
<circle cx="678.05" cy="507.84" r="1.1" fill="#1c1c1c"/>
<circle cx="678.05" cy="510.86" r="1.1" fill="#1c1c1c"/>
<circle cx="678.05" cy="513.06" r="1.1" fill="#1c1c1c"/>
<path d="M549.9 405.8V521.4M542.2 520.9H684.4" stroke="#1c1c1c" stroke-width="1" fill="none"/>
<text x="540.2" y="524.35" text-anchor="end" class="t">0</text>
<text x="540.2" y="501.43" text-anchor="end" class="t">10</text>
<text x="540.2" y="478.51" text-anchor="end" class="t">20</text>
<text x="540.2" y="455.59" text-anchor="end" class="t">30</text>
<text x="540.2" y="432.67" text-anchor="end" class="t">40</text>
<text x="540.2" y="409.75" text-anchor="end" class="t">50</text>
<text transform="translate(559.98 537.76) rotate(-45)" text-anchor="end" class="t">A1</text>
<text transform="translate(576.78 537.76) rotate(-45)" text-anchor="end" class="t">A2</text>
<text transform="translate(593.58 537.76) rotate(-45)" text-anchor="end" class="t">A3</text>
<text transform="translate(610.38 537.76) rotate(-45)" text-anchor="end" class="t">A4</text>
<text transform="translate(627.18 537.76) rotate(-45)" text-anchor="end" class="t">A6</text>
<text transform="translate(643.98 537.76) rotate(-45)" text-anchor="end" class="t">A7</text>
<text transform="translate(660.78 537.76) rotate(-45)" text-anchor="end" class="t">A9</text>
<text transform="translate(676.58 535.87) rotate(-45)" text-anchor="end" class="t">A10</text>
<path d="M542.2 497.98H549.9M542.2 475.06H549.9M542.2 452.14H549.9M542.2 429.22H549.9M542.2 406.3H549.9M557.3 520.9V526.1M574.1 520.9V526.1M590.9 520.9V526.1M607.7 520.9V526.1M624.5 520.9V526.1M641.3 520.9V526.1M658.1 520.9V526.1M674.9 520.9V526.1" stroke="#1c1c1c" stroke-width="1" fill="none"/>
<text transform="translate(523.8 463.6) rotate(-90)" text-anchor="middle" class="t" style="font-size:9.55px">A to G efficiency (%)</text>
<text x="613.2" y="405.1" text-anchor="middle" class="tb"><tspan font-style="italic">IFNγ</tspan>-5</text>
<text x="617.15" y="556.7" text-anchor="middle" class="t" style="font-size:9.5px">AAAAGAACAATTTGGT</text>
</g>
<g>
<circle cx="42.28" cy="704.89" r="1.1" fill="#1c1c1c"/>
<circle cx="44.57" cy="704.89" r="1.1" fill="#1c1c1c"/>
<circle cx="46.86" cy="704.89" r="1.1" fill="#1c1c1c"/>
<rect x="50.6" y="694.53" width="4.86" height="10.47" fill="#078107" stroke="#0d2a0d" stroke-width="0.8"/>
<path d="M53.03 691.02V697.44M51.34 691.02H54.72M51.34 697.44H54.72" stroke="#1c1c1c" stroke-width="1" fill="none"/>
<circle cx="53.03" cy="691.5" r="1.1" fill="#1c1c1c"/>
<circle cx="53.03" cy="693.43" r="1.1" fill="#1c1c1c"/>
<circle cx="53.03" cy="697.76" r="1.1" fill="#1c1c1c"/>
<rect x="64.89" y="702.55" width="4.86" height="2.45" fill="#a3a3a6" stroke="#1c1c1c" stroke-width="0.9"/>
<path d="M67.32 701.56V702.94M65.63 701.56H69.01M65.63 702.94H69.01" stroke="#1c1c1c" stroke-width="1" fill="none"/>
<circle cx="65.03" cy="702.25" r="1.1" fill="#1c1c1c"/>
<circle cx="67.32" cy="701.75" r="1.1" fill="#1c1c1c"/>
<circle cx="69.61" cy="702.25" r="1.1" fill="#1c1c1c"/>
<rect x="73.35" y="627.37" width="4.86" height="77.63" fill="#078107" stroke="#0d2a0d" stroke-width="0.8"/>
<path d="M75.78 619.05V635.09M74.09 619.05H77.47M74.09 635.09H77.47" stroke="#1c1c1c" stroke-width="1" fill="none"/>
<circle cx="75.78" cy="622.26" r="1.1" fill="#1c1c1c"/>
<circle cx="75.78" cy="622.66" r="1.1" fill="#1c1c1c"/>
<circle cx="75.78" cy="636.3" r="1.1" fill="#1c1c1c"/>
<rect x="87.64" y="702.32" width="4.86" height="2.68" fill="#a3a3a6" stroke="#1c1c1c" stroke-width="0.9"/>
<path d="M90.07 701.33V702.71M88.38 701.33H91.76M88.38 702.71H91.76" stroke="#1c1c1c" stroke-width="1" fill="none"/>
<circle cx="87.78" cy="702.02" r="1.1" fill="#1c1c1c"/>
<circle cx="90.07" cy="701.52" r="1.1" fill="#1c1c1c"/>
<circle cx="92.36" cy="702.02" r="1.1" fill="#1c1c1c"/>
<rect x="96.1" y="624.28" width="4.86" height="80.72" fill="#078107" stroke="#0d2a0d" stroke-width="0.8"/>
<path d="M98.53 616.93V631.03M96.84 616.93H100.22M96.84 631.03H100.22" stroke="#1c1c1c" stroke-width="1" fill="none"/>
<circle cx="98.53" cy="619.75" r="1.1" fill="#1c1c1c"/>
<circle cx="98.53" cy="620.1" r="1.1" fill="#1c1c1c"/>
<circle cx="98.53" cy="632.08" r="1.1" fill="#1c1c1c"/>
<rect x="110.39" y="704.5" width="4.86" height="0.5" fill="#a3a3a6" stroke="#1c1c1c" stroke-width="0.9"/>
<circle cx="110.53" cy="704.2" r="1.1" fill="#1c1c1c"/>
<circle cx="112.82" cy="704.2" r="1.1" fill="#1c1c1c"/>
<circle cx="115.11" cy="704.2" r="1.1" fill="#1c1c1c"/>
<rect x="118.85" y="690.52" width="4.86" height="14.48" fill="#078107" stroke="#0d2a0d" stroke-width="0.8"/>
<path d="M121.28 686.43V694M119.59 686.43H122.97M119.59 694H122.97" stroke="#1c1c1c" stroke-width="1" fill="none"/>
<circle cx="121.28" cy="686.06" r="1.1" fill="#1c1c1c"/>
<circle cx="121.28" cy="691.35" r="1.1" fill="#1c1c1c"/>
<circle cx="121.28" cy="693.24" r="1.1" fill="#1c1c1c"/>
<circle cx="133.28" cy="705" r="1.1" fill="#1c1c1c"/>
<circle cx="135.57" cy="705" r="1.1" fill="#1c1c1c"/>
<circle cx="137.86" cy="705" r="1.1" fill="#1c1c1c"/>
<circle cx="141.74" cy="705" r="1.1" fill="#1c1c1c"/>
<circle cx="144.03" cy="705" r="1.1" fill="#1c1c1c"/>
<circle cx="146.32" cy="705" r="1.1" fill="#1c1c1c"/>
<circle cx="156.03" cy="705" r="1.1" fill="#1c1c1c"/>
<circle cx="158.32" cy="705" r="1.1" fill="#1c1c1c"/>
<circle cx="160.61" cy="705" r="1.1" fill="#1c1c1c"/>
<circle cx="164.49" cy="705" r="1.1" fill="#1c1c1c"/>
<circle cx="166.78" cy="705" r="1.1" fill="#1c1c1c"/>
<circle cx="169.07" cy="705" r="1.1" fill="#1c1c1c"/>
<path d="M38.6 589.9V705.5M30.9 705H173.1" stroke="#1c1c1c" stroke-width="1" fill="none"/>
<text x="28.9" y="708.45" text-anchor="end" class="t">0</text>
<text x="28.9" y="685.53" text-anchor="end" class="t">20</text>
<text x="28.9" y="662.61" text-anchor="end" class="t">40</text>
<text x="28.9" y="639.69" text-anchor="end" class="t">60</text>
<text x="28.9" y="616.77" text-anchor="end" class="t">80</text>
<text x="28.9" y="593.85" text-anchor="end" class="t">100</text>
<text transform="translate(51.48 721.86) rotate(-45)" text-anchor="end" class="t">A1</text>
<text transform="translate(74.23 721.86) rotate(-45)" text-anchor="end" class="t">A4</text>
<text transform="translate(96.98 721.86) rotate(-45)" text-anchor="end" class="t">A6</text>
<text transform="translate(118.73 719.97) rotate(-45)" text-anchor="end" class="t">A12</text>
<text transform="translate(141.48 719.97) rotate(-45)" text-anchor="end" class="t">A14</text>
<text transform="translate(164.23 719.97) rotate(-45)" text-anchor="end" class="t">A16</text>
<path d="M30.9 682.08H38.6M30.9 659.16H38.6M30.9 636.24H38.6M30.9 613.32H38.6M30.9 590.4H38.6M48.8 705V710.2M71.55 705V710.2M94.3 705V710.2M117.05 705V710.2M139.8 705V710.2M162.55 705V710.2" stroke="#1c1c1c" stroke-width="1" fill="none"/>
<text transform="translate(7.7 647.7) rotate(-90)" text-anchor="middle" class="t" style="font-size:9.55px">A to G efficiency (%)</text>
<text x="101.7" y="589.3" text-anchor="middle" class="tb"><tspan font-style="italic">IFNγ</tspan>-6</text>
<text x="105.85" y="743.2" text-anchor="middle" class="t" style="font-size:9.5px">ATGAGATGGTGACAGA</text>
</g>
<g>
<rect x="211.31" y="704.3" width="5.98" height="0.7" fill="#a3a3a6" stroke="#1c1c1c" stroke-width="0.9"/>
<circle cx="211.8" cy="704" r="1.1" fill="#1c1c1c"/>
<circle cx="214.3" cy="704" r="1.1" fill="#1c1c1c"/>
<circle cx="216.8" cy="704" r="1.1" fill="#1c1c1c"/>
<rect x="221.51" y="605.88" width="5.98" height="99.12" fill="#078107" stroke="#0d2a0d" stroke-width="0.8"/>
<path d="M224.5 597.13V614.04M222.46 597.13H226.54M222.46 614.04H226.54" stroke="#1c1c1c" stroke-width="1" fill="none"/>
<circle cx="222.1" cy="600.51" r="1.1" fill="#1c1c1c"/>
<circle cx="226.9" cy="600.94" r="1.1" fill="#1c1c1c"/>
<circle cx="224.5" cy="615.3" r="1.1" fill="#1c1c1c"/>
<rect x="238.66" y="704.44" width="5.98" height="0.56" fill="#a3a3a6" stroke="#1c1c1c" stroke-width="0.9"/>
<circle cx="239.15" cy="704.14" r="1.1" fill="#1c1c1c"/>
<circle cx="241.65" cy="704.14" r="1.1" fill="#1c1c1c"/>
<circle cx="244.15" cy="704.14" r="1.1" fill="#1c1c1c"/>
<rect x="248.86" y="617.2" width="5.98" height="87.8" fill="#078107" stroke="#0d2a0d" stroke-width="0.8"/>
<path d="M251.85 608.45V625.35M249.81 608.45H253.89M249.81 625.35H253.89" stroke="#1c1c1c" stroke-width="1" fill="none"/>
<circle cx="249.45" cy="611.83" r="1.1" fill="#1c1c1c"/>
<circle cx="254.25" cy="612.25" r="1.1" fill="#1c1c1c"/>
<circle cx="251.85" cy="626.62" r="1.1" fill="#1c1c1c"/>
<rect x="266.01" y="704.58" width="5.98" height="0.42" fill="#a3a3a6" stroke="#1c1c1c" stroke-width="0.9"/>
<circle cx="266.5" cy="704.28" r="1.1" fill="#1c1c1c"/>
<circle cx="269" cy="704.28" r="1.1" fill="#1c1c1c"/>
<circle cx="271.5" cy="704.28" r="1.1" fill="#1c1c1c"/>
<rect x="276.21" y="640.55" width="5.98" height="64.45" fill="#078107" stroke="#0d2a0d" stroke-width="0.8"/>
<path d="M279.2 632.37V648.13M277.16 632.37H281.24M277.16 648.13H281.24" stroke="#1c1c1c" stroke-width="1" fill="none"/>
<circle cx="279.2" cy="632.37" r="1.1" fill="#1c1c1c"/>
<circle cx="279.2" cy="641.04" r="1.1" fill="#1c1c1c"/>
<circle cx="279.2" cy="647.34" r="1.1" fill="#1c1c1c"/>
<circle cx="293.85" cy="705" r="1.1" fill="#1c1c1c"/>
<circle cx="296.35" cy="705" r="1.1" fill="#1c1c1c"/>
<circle cx="298.85" cy="705" r="1.1" fill="#1c1c1c"/>
<circle cx="304.05" cy="705" r="1.1" fill="#1c1c1c"/>
<circle cx="306.55" cy="705" r="1.1" fill="#1c1c1c"/>
<circle cx="309.05" cy="705" r="1.1" fill="#1c1c1c"/>
<circle cx="321.2" cy="705" r="1.1" fill="#1c1c1c"/>
<circle cx="323.7" cy="705" r="1.1" fill="#1c1c1c"/>
<circle cx="326.2" cy="705" r="1.1" fill="#1c1c1c"/>
<circle cx="331.4" cy="705" r="1.1" fill="#1c1c1c"/>
<circle cx="333.9" cy="705" r="1.1" fill="#1c1c1c"/>
<circle cx="336.4" cy="705" r="1.1" fill="#1c1c1c"/>
<path d="M207.4 589.9V705.5M199.7 705H341.9" stroke="#1c1c1c" stroke-width="1" fill="none"/>
<text x="197.7" y="708.45" text-anchor="end" class="t">0</text>
<text x="197.7" y="679.8" text-anchor="end" class="t">20</text>
<text x="197.7" y="651.15" text-anchor="end" class="t">40</text>
<text x="197.7" y="622.5" text-anchor="end" class="t">60</text>
<text x="197.7" y="593.85" text-anchor="end" class="t">80</text>
<text transform="translate(222.08 721.86) rotate(-45)" text-anchor="end" class="t">A4</text>
<text transform="translate(249.43 721.86) rotate(-45)" text-anchor="end" class="t">A7</text>
<text transform="translate(276.78 721.86) rotate(-45)" text-anchor="end" class="t">A9</text>
<text transform="translate(303.13 719.97) rotate(-45)" text-anchor="end" class="t">A14</text>
<text transform="translate(330.48 719.97) rotate(-45)" text-anchor="end" class="t">A15</text>
<path d="M199.7 676.35H207.4M199.7 647.7H207.4M199.7 619.05H207.4M199.7 590.4H207.4M219.4 705V710.2M246.75 705V710.2M274.1 705V710.2M301.45 705V710.2M328.8 705V710.2" stroke="#1c1c1c" stroke-width="1" fill="none"/>
<text transform="translate(181.3 647.7) rotate(-90)" text-anchor="middle" class="t" style="font-size:9.55px">A to G efficiency (%)</text>
<text x="270.2" y="589.3" text-anchor="middle" class="tb"><tspan font-style="italic">IFNγ</tspan>-7</text>
<text x="274.65" y="743.2" text-anchor="middle" class="t" style="font-size:9.5px">CTCAGGAGACTTCAAT</text>
</g>
<g>
<rect x="384.14" y="703.81" width="4.86" height="1.19" fill="#a3a3a6" stroke="#1c1c1c" stroke-width="0.9"/>
<circle cx="384.28" cy="703.51" r="1.1" fill="#1c1c1c"/>
<circle cx="386.57" cy="703.01" r="1.1" fill="#1c1c1c"/>
<circle cx="388.86" cy="703.51" r="1.1" fill="#1c1c1c"/>
<rect x="392.6" y="693.84" width="4.86" height="11.16" fill="#078107" stroke="#0d2a0d" stroke-width="0.8"/>
<path d="M395.03 692.39V694.69M393.34 692.39H396.72M393.34 694.69H396.72" stroke="#1c1c1c" stroke-width="1" fill="none"/>
<circle cx="392.74" cy="693.54" r="1.1" fill="#1c1c1c"/>
<circle cx="395.03" cy="693.04" r="1.1" fill="#1c1c1c"/>
<circle cx="397.32" cy="693.54" r="1.1" fill="#1c1c1c"/>
<rect x="406.89" y="698.77" width="4.86" height="6.23" fill="#a3a3a6" stroke="#1c1c1c" stroke-width="0.9"/>
<path d="M409.32 695.37V701.56M407.63 695.37H411.01M407.63 701.56H411.01" stroke="#1c1c1c" stroke-width="1" fill="none"/>
<circle cx="409.32" cy="696.61" r="1.1" fill="#1c1c1c"/>
<circle cx="409.32" cy="696.77" r="1.1" fill="#1c1c1c"/>
<circle cx="409.32" cy="702.03" r="1.1" fill="#1c1c1c"/>
<rect x="415.35" y="652.7" width="4.86" height="52.3" fill="#078107" stroke="#0d2a0d" stroke-width="0.8"/>
<path d="M417.78 650.11V654.69M416.09 650.11H419.47M416.09 654.69H419.47" stroke="#1c1c1c" stroke-width="1" fill="none"/>
<circle cx="417.78" cy="650.11" r="1.1" fill="#1c1c1c"/>
<circle cx="417.78" cy="652.63" r="1.1" fill="#1c1c1c"/>
<circle cx="417.78" cy="654.46" r="1.1" fill="#1c1c1c"/>
<rect x="429.64" y="686.73" width="4.86" height="18.27" fill="#a3a3a6" stroke="#1c1c1c" stroke-width="0.9"/>
<path d="M432.07 680.53V692.34M430.38 680.53H433.76M430.38 692.34H433.76" stroke="#1c1c1c" stroke-width="1" fill="none"/>
<circle cx="432.07" cy="682.89" r="1.1" fill="#1c1c1c"/>
<circle cx="432.07" cy="683.19" r="1.1" fill="#1c1c1c"/>
<circle cx="432.07" cy="693.22" r="1.1" fill="#1c1c1c"/>
<rect x="438.1" y="600.44" width="4.86" height="104.56" fill="#078107" stroke="#0d2a0d" stroke-width="0.8"/>
<path d="M440.53 598.08V602.2M438.84 598.08H442.22M438.84 602.2H442.22" stroke="#1c1c1c" stroke-width="1" fill="none"/>
<circle cx="438.24" cy="600.14" r="1.1" fill="#1c1c1c"/>
<circle cx="440.53" cy="599.64" r="1.1" fill="#1c1c1c"/>
<circle cx="442.82" cy="600.14" r="1.1" fill="#1c1c1c"/>
<rect x="452.39" y="687.54" width="4.86" height="17.46" fill="#a3a3a6" stroke="#1c1c1c" stroke-width="0.9"/>
<path d="M454.82 681.56V692.91M453.13 681.56H456.51M453.13 692.91H456.51" stroke="#1c1c1c" stroke-width="1" fill="none"/>
<circle cx="454.82" cy="681.56" r="1.1" fill="#1c1c1c"/>
<circle cx="454.82" cy="687.8" r="1.1" fill="#1c1c1c"/>
<circle cx="454.82" cy="692.34" r="1.1" fill="#1c1c1c"/>
<rect x="460.85" y="601.01" width="4.86" height="103.99" fill="#078107" stroke="#0d2a0d" stroke-width="0.8"/>
<path d="M463.28 598.42V603.01M461.59 598.42H464.97M461.59 603.01H464.97" stroke="#1c1c1c" stroke-width="1" fill="none"/>
<circle cx="463.28" cy="598.19" r="1.1" fill="#1c1c1c"/>
<circle cx="463.28" cy="601.4" r="1.1" fill="#1c1c1c"/>
<circle cx="463.28" cy="602.55" r="1.1" fill="#1c1c1c"/>
<circle cx="475.28" cy="705" r="1.1" fill="#1c1c1c"/>
<circle cx="477.57" cy="705" r="1.1" fill="#1c1c1c"/>
<circle cx="479.86" cy="705" r="1.1" fill="#1c1c1c"/>
<circle cx="483.74" cy="705" r="1.1" fill="#1c1c1c"/>
<circle cx="486.03" cy="705" r="1.1" fill="#1c1c1c"/>
<circle cx="488.32" cy="705" r="1.1" fill="#1c1c1c"/>
<circle cx="498.03" cy="705" r="1.1" fill="#1c1c1c"/>
<circle cx="500.32" cy="705" r="1.1" fill="#1c1c1c"/>
<circle cx="502.61" cy="705" r="1.1" fill="#1c1c1c"/>
<circle cx="506.49" cy="705" r="1.1" fill="#1c1c1c"/>
<circle cx="508.78" cy="705" r="1.1" fill="#1c1c1c"/>
<circle cx="511.07" cy="705" r="1.1" fill="#1c1c1c"/>
<path d="M381.3 589.9V705.5M373.6 705H515.8" stroke="#1c1c1c" stroke-width="1" fill="none"/>
<text x="371.6" y="708.45" text-anchor="end" class="t">0</text>
<text x="371.6" y="685.53" text-anchor="end" class="t">20</text>
<text x="371.6" y="662.61" text-anchor="end" class="t">40</text>
<text x="371.6" y="639.69" text-anchor="end" class="t">60</text>
<text x="371.6" y="616.77" text-anchor="end" class="t">80</text>
<text x="371.6" y="593.85" text-anchor="end" class="t">100</text>
<text transform="translate(393.48 721.86) rotate(-45)" text-anchor="end" class="t">A1</text>
<text transform="translate(416.23 721.86) rotate(-45)" text-anchor="end" class="t">A2</text>
<text transform="translate(438.98 721.86) rotate(-45)" text-anchor="end" class="t">A4</text>
<text transform="translate(461.73 721.86) rotate(-45)" text-anchor="end" class="t">A6</text>
<text transform="translate(483.48 719.97) rotate(-45)" text-anchor="end" class="t">A14</text>
<text transform="translate(506.23 719.97) rotate(-45)" text-anchor="end" class="t">A15</text>
<path d="M373.6 682.08H381.3M373.6 659.16H381.3M373.6 636.24H381.3M373.6 613.32H381.3M373.6 590.4H381.3M390.8 705V710.2M413.55 705V710.2M436.3 705V710.2M459.05 705V710.2M481.8 705V710.2M504.55 705V710.2" stroke="#1c1c1c" stroke-width="1" fill="none"/>
<text transform="translate(350.4 647.7) rotate(-90)" text-anchor="middle" class="t" style="font-size:9.55px">A to G efficiency (%)</text>
<text x="444" y="589.3" text-anchor="middle" class="tb"><tspan font-style="italic">KLF4</tspan>-1</text>
<text x="448.55" y="743.2" text-anchor="middle" class="t" style="font-size:9.5px">AACACACCGGGTTAAT</text>
</g>
<g>
<circle cx="556.19" cy="705" r="1.1" fill="#1c1c1c"/>
<circle cx="558.69" cy="705" r="1.1" fill="#1c1c1c"/>
<circle cx="561.19" cy="705" r="1.1" fill="#1c1c1c"/>
<rect x="567.68" y="686.96" width="7.68" height="18.04" fill="#078107" stroke="#0d2a0d" stroke-width="0.8"/>
<path d="M571.51 679.1V694.23M568.95 679.1H574.08M568.95 694.23H574.08" stroke="#1c1c1c" stroke-width="1" fill="none"/>
<circle cx="571.51" cy="678.34" r="1.1" fill="#1c1c1c"/>
<circle cx="571.51" cy="688.93" r="1.1" fill="#1c1c1c"/>
<circle cx="571.51" cy="692.71" r="1.1" fill="#1c1c1c"/>
<rect x="589.35" y="704.96" width="7.68" height="0.04" fill="#a3a3a6" stroke="#1c1c1c" stroke-width="0.9"/>
<circle cx="590.69" cy="704.66" r="1.1" fill="#1c1c1c"/>
<circle cx="593.19" cy="704.66" r="1.1" fill="#1c1c1c"/>
<circle cx="595.69" cy="704.66" r="1.1" fill="#1c1c1c"/>
<rect x="602.18" y="627.6" width="7.68" height="77.4" fill="#078107" stroke="#0d2a0d" stroke-width="0.8"/>
<path d="M606.01 604.61V649.99M603.45 604.61H608.58M603.45 649.99H608.58" stroke="#1c1c1c" stroke-width="1" fill="none"/>
<circle cx="606.01" cy="604.61" r="1.1" fill="#1c1c1c"/>
<circle cx="606.01" cy="629.57" r="1.1" fill="#1c1c1c"/>
<circle cx="606.01" cy="647.72" r="1.1" fill="#1c1c1c"/>
<circle cx="625.19" cy="705" r="1.1" fill="#1c1c1c"/>
<circle cx="627.69" cy="705" r="1.1" fill="#1c1c1c"/>
<circle cx="630.19" cy="705" r="1.1" fill="#1c1c1c"/>
<rect x="636.68" y="631.04" width="7.68" height="73.96" fill="#078107" stroke="#0d2a0d" stroke-width="0.8"/>
<path d="M640.51 610.57V650.91M637.95 610.57H643.08M637.95 650.91H643.08" stroke="#1c1c1c" stroke-width="1" fill="none"/>
<circle cx="640.51" cy="610.57" r="1.1" fill="#1c1c1c"/>
<circle cx="640.51" cy="632.76" r="1.1" fill="#1c1c1c"/>
<circle cx="640.51" cy="648.89" r="1.1" fill="#1c1c1c"/>
<circle cx="659.69" cy="705" r="1.1" fill="#1c1c1c"/>
<circle cx="662.19" cy="705" r="1.1" fill="#1c1c1c"/>
<circle cx="664.69" cy="705" r="1.1" fill="#1c1c1c"/>
<rect x="671.18" y="675.5" width="7.68" height="29.5" fill="#078107" stroke="#0d2a0d" stroke-width="0.8"/>
<path d="M675.01 663.97V686.43M672.45 663.97H677.58M672.45 686.43H677.58" stroke="#1c1c1c" stroke-width="1" fill="none"/>
<circle cx="675.01" cy="662.85" r="1.1" fill="#1c1c1c"/>
<circle cx="675.01" cy="678.57" r="1.1" fill="#1c1c1c"/>
<circle cx="675.01" cy="684.19" r="1.1" fill="#1c1c1c"/>
<path d="M549.9 589.9V705.5M542.2 705H684.4" stroke="#1c1c1c" stroke-width="1" fill="none"/>
<text x="540.2" y="708.45" text-anchor="end" class="t">0</text>
<text x="540.2" y="685.53" text-anchor="end" class="t">10</text>
<text x="540.2" y="662.61" text-anchor="end" class="t">20</text>
<text x="540.2" y="639.69" text-anchor="end" class="t">30</text>
<text x="540.2" y="616.77" text-anchor="end" class="t">40</text>
<text x="540.2" y="593.85" text-anchor="end" class="t">50</text>
<text transform="translate(567.78 721.86) rotate(-45)" text-anchor="end" class="t">A2</text>
<text transform="translate(602.28 721.86) rotate(-45)" text-anchor="end" class="t">A4</text>
<text transform="translate(636.78 721.86) rotate(-45)" text-anchor="end" class="t">A5</text>
<text transform="translate(670.28 719.97) rotate(-45)" text-anchor="end" class="t">A12</text>
<path d="M542.2 682.08H549.9M542.2 659.16H549.9M542.2 636.24H549.9M542.2 613.32H549.9M542.2 590.4H549.9M565.1 705V710.2M599.6 705V710.2M634.1 705V710.2M668.6 705V710.2" stroke="#1c1c1c" stroke-width="1" fill="none"/>
<text transform="translate(523.8 647.7) rotate(-90)" text-anchor="middle" class="t" style="font-size:9.55px">A to G efficiency (%)</text>
<text x="613.3" y="589.3" text-anchor="middle" class="tb"><tspan font-style="italic">KLF4</tspan>-5</text>
<text x="617.15" y="743.2" text-anchor="middle" class="t" style="font-size:9.5px">TACAATGGTTTATTCC</text>
</g>
<g>
<circle cx="39.69" cy="891.15" r="1.1" fill="#1c1c1c"/>
<circle cx="42.19" cy="891.15" r="1.1" fill="#1c1c1c"/>
<circle cx="44.69" cy="891.15" r="1.1" fill="#1c1c1c"/>
<rect x="51.18" y="883.43" width="7.68" height="7.72" fill="#078107" stroke="#0d2a0d" stroke-width="0.8"/>
<path d="M55.01 880.38V885.88M52.45 880.38H57.58M52.45 885.88H57.58" stroke="#1c1c1c" stroke-width="1" fill="none"/>
<circle cx="55.01" cy="880.05" r="1.1" fill="#1c1c1c"/>
<circle cx="52.61" cy="884.37" r="1.1" fill="#1c1c1c"/>
<circle cx="57.41" cy="884.97" r="1.1" fill="#1c1c1c"/>
<circle cx="74.19" cy="891.15" r="1.1" fill="#1c1c1c"/>
<circle cx="76.69" cy="891.15" r="1.1" fill="#1c1c1c"/>
<circle cx="79.19" cy="891.15" r="1.1" fill="#1c1c1c"/>
<rect x="85.68" y="817.65" width="7.68" height="73.5" fill="#078107" stroke="#0d2a0d" stroke-width="0.8"/>
<path d="M89.51 801.76V832.93M86.95 801.76H92.08M86.95 832.93H92.08" stroke="#1c1c1c" stroke-width="1" fill="none"/>
<circle cx="89.51" cy="801.76" r="1.1" fill="#1c1c1c"/>
<circle cx="89.51" cy="818.91" r="1.1" fill="#1c1c1c"/>
<circle cx="89.51" cy="831.37" r="1.1" fill="#1c1c1c"/>
<circle cx="108.69" cy="891.15" r="1.1" fill="#1c1c1c"/>
<circle cx="111.19" cy="891.15" r="1.1" fill="#1c1c1c"/>
<circle cx="113.69" cy="891.15" r="1.1" fill="#1c1c1c"/>
<rect x="120.18" y="830.48" width="7.68" height="60.67" fill="#078107" stroke="#0d2a0d" stroke-width="0.8"/>
<path d="M124.01 815.51V844.85M121.45 815.51H126.58M121.45 844.85H126.58" stroke="#1c1c1c" stroke-width="1" fill="none"/>
<circle cx="124.01" cy="817.71" r="1.1" fill="#1c1c1c"/>
<circle cx="124.01" cy="826.52" r="1.1" fill="#1c1c1c"/>
<circle cx="124.01" cy="846.32" r="1.1" fill="#1c1c1c"/>
<circle cx="143.19" cy="891.15" r="1.1" fill="#1c1c1c"/>
<circle cx="145.69" cy="891.15" r="1.1" fill="#1c1c1c"/>
<circle cx="148.19" cy="891.15" r="1.1" fill="#1c1c1c"/>
<circle cx="156.01" cy="891.15" r="1.1" fill="#1c1c1c"/>
<circle cx="158.51" cy="891.15" r="1.1" fill="#1c1c1c"/>
<circle cx="161.01" cy="891.15" r="1.1" fill="#1c1c1c"/>
<path d="M33.5 776.05V891.65M25.8 891.15H168" stroke="#1c1c1c" stroke-width="1" fill="none"/>
<text x="23.8" y="894.6" text-anchor="end" class="t">0</text>
<text x="23.8" y="871.68" text-anchor="end" class="t">10</text>
<text x="23.8" y="848.76" text-anchor="end" class="t">20</text>
<text x="23.8" y="825.84" text-anchor="end" class="t">30</text>
<text x="23.8" y="802.92" text-anchor="end" class="t">40</text>
<text x="23.8" y="780" text-anchor="end" class="t">50</text>
<text transform="translate(51.28 908.01) rotate(-45)" text-anchor="end" class="t">A2</text>
<text transform="translate(85.78 908.01) rotate(-45)" text-anchor="end" class="t">A5</text>
<text transform="translate(120.28 908.01) rotate(-45)" text-anchor="end" class="t">A6</text>
<text transform="translate(153.78 906.12) rotate(-45)" text-anchor="end" class="t">A16</text>
<path d="M25.8 868.23H33.5M25.8 845.31H33.5M25.8 822.39H33.5M25.8 799.47H33.5M25.8 776.55H33.5M48.6 891.15V896.35M83.1 891.15V896.35M117.6 891.15V896.35M152.1 891.15V896.35" stroke="#1c1c1c" stroke-width="1" fill="none"/>
<text transform="translate(7.4 833.85) rotate(-90)" text-anchor="middle" class="t" style="font-size:9.55px">A to G efficiency (%)</text>
<text x="96.4" y="775.45" text-anchor="middle" class="tb"><tspan font-style="italic">KLF4</tspan>-7</text>
<text x="100.75" y="928.9" text-anchor="middle" class="t" style="font-size:9.5px">GATTAAGCTGTTTCTA</text>
</g>
<g>
<rect x="208.75" y="890.73" width="7.68" height="0.42" fill="#a3a3a6" stroke="#1c1c1c" stroke-width="0.9"/>
<circle cx="210.09" cy="890.43" r="1.1" fill="#1c1c1c"/>
<circle cx="212.59" cy="890.43" r="1.1" fill="#1c1c1c"/>
<circle cx="215.09" cy="890.43" r="1.1" fill="#1c1c1c"/>
<rect x="221.58" y="882.85" width="7.68" height="8.29" fill="#078107" stroke="#0d2a0d" stroke-width="0.8"/>
<path d="M225.41 879.69V885.42M222.85 879.69H227.98M222.85 885.42H227.98" stroke="#1c1c1c" stroke-width="1" fill="none"/>
<circle cx="223.01" cy="880.84" r="1.1" fill="#1c1c1c"/>
<circle cx="227.81" cy="880.98" r="1.1" fill="#1c1c1c"/>
<circle cx="225.41" cy="885.85" r="1.1" fill="#1c1c1c"/>
<rect x="243.25" y="885.43" width="7.68" height="5.72" fill="#a3a3a6" stroke="#1c1c1c" stroke-width="0.9"/>
<path d="M247.09 879.4V890.86M244.52 879.4H249.65M244.52 890.86H249.65" stroke="#1c1c1c" stroke-width="1" fill="none"/>
<circle cx="244.69" cy="881.7" r="1.1" fill="#1c1c1c"/>
<circle cx="249.49" cy="881.98" r="1.1" fill="#1c1c1c"/>
<circle cx="247.09" cy="891.72" r="1.1" fill="#1c1c1c"/>
<rect x="256.08" y="805.64" width="7.68" height="85.51" fill="#078107" stroke="#0d2a0d" stroke-width="0.8"/>
<path d="M259.91 793.02V817.66M257.35 793.02H262.48M257.35 817.66H262.48" stroke="#1c1c1c" stroke-width="1" fill="none"/>
<circle cx="259.91" cy="793.02" r="1.1" fill="#1c1c1c"/>
<circle cx="259.91" cy="806.58" r="1.1" fill="#1c1c1c"/>
<circle cx="259.91" cy="816.43" r="1.1" fill="#1c1c1c"/>
<rect x="277.75" y="885.15" width="7.68" height="6" fill="#a3a3a6" stroke="#1c1c1c" stroke-width="0.9"/>
<path d="M281.59 878.54V891.15M279.02 878.54H284.15M279.02 891.15H284.15" stroke="#1c1c1c" stroke-width="1" fill="none"/>
<circle cx="281.59" cy="877.79" r="1.1" fill="#1c1c1c"/>
<circle cx="279.19" cy="887.68" r="1.1" fill="#1c1c1c"/>
<circle cx="283.99" cy="889.07" r="1.1" fill="#1c1c1c"/>
<rect x="290.58" y="796.33" width="7.68" height="94.82" fill="#078107" stroke="#0d2a0d" stroke-width="0.8"/>
<path d="M294.41 784.57V807.49M291.85 784.57H296.98M291.85 807.49H296.98" stroke="#1c1c1c" stroke-width="1" fill="none"/>
<circle cx="292.01" cy="789.16" r="1.1" fill="#1c1c1c"/>
<circle cx="296.81" cy="789.73" r="1.1" fill="#1c1c1c"/>
<circle cx="294.41" cy="809.21" r="1.1" fill="#1c1c1c"/>
<circle cx="313.59" cy="891.15" r="1.1" fill="#1c1c1c"/>
<circle cx="316.09" cy="891.15" r="1.1" fill="#1c1c1c"/>
<circle cx="318.59" cy="891.15" r="1.1" fill="#1c1c1c"/>
<circle cx="326.41" cy="891.15" r="1.1" fill="#1c1c1c"/>
<circle cx="328.91" cy="891.15" r="1.1" fill="#1c1c1c"/>
<circle cx="331.41" cy="891.15" r="1.1" fill="#1c1c1c"/>
<path d="M203.9 776.05V891.65M196.2 891.15H338.4" stroke="#1c1c1c" stroke-width="1" fill="none"/>
<text x="194.2" y="894.6" text-anchor="end" class="t">0</text>
<text x="194.2" y="865.95" text-anchor="end" class="t">20</text>
<text x="194.2" y="837.3" text-anchor="end" class="t">40</text>
<text x="194.2" y="808.65" text-anchor="end" class="t">60</text>
<text x="194.2" y="780" text-anchor="end" class="t">80</text>
<text transform="translate(221.68 908.01) rotate(-45)" text-anchor="end" class="t">A2</text>
<text transform="translate(256.18 908.01) rotate(-45)" text-anchor="end" class="t">A4</text>
<text transform="translate(290.68 908.01) rotate(-45)" text-anchor="end" class="t">A7</text>
<text transform="translate(324.18 906.12) rotate(-45)" text-anchor="end" class="t">A15</text>
<path d="M196.2 862.5H203.9M196.2 833.85H203.9M196.2 805.2H203.9M196.2 776.55H203.9M219 891.15V896.35M253.5 891.15V896.35M288 891.15V896.35M322.5 891.15V896.35" stroke="#1c1c1c" stroke-width="1" fill="none"/>
<text transform="translate(177.8 833.85) rotate(-90)" text-anchor="middle" class="t" style="font-size:9.55px">A to G efficiency (%)</text>
<text x="265.1" y="775.45" text-anchor="middle" class="tb"><tspan font-style="italic">VEGFA</tspan>-5</text>
<text x="271.15" y="928.9" text-anchor="middle" class="t" style="font-size:9.5px">CAGATGAGGGCTCCAG</text>
</g>
<g>
<rect x="377.14" y="890.88" width="4.86" height="0.27" fill="#a3a3a6" stroke="#1c1c1c" stroke-width="0.9"/>
<circle cx="377.28" cy="890.58" r="1.1" fill="#1c1c1c"/>
<circle cx="379.57" cy="890.58" r="1.1" fill="#1c1c1c"/>
<circle cx="381.86" cy="890.58" r="1.1" fill="#1c1c1c"/>
<rect x="385.6" y="873.4" width="4.86" height="17.75" fill="#078107" stroke="#0d2a0d" stroke-width="0.8"/>
<path d="M388.03 865.65V880.55M386.34 865.65H389.72M386.34 880.55H389.72" stroke="#1c1c1c" stroke-width="1" fill="none"/>
<circle cx="388.03" cy="866.77" r="1.1" fill="#1c1c1c"/>
<circle cx="388.03" cy="871.24" r="1.1" fill="#1c1c1c"/>
<circle cx="388.03" cy="881.29" r="1.1" fill="#1c1c1c"/>
<rect x="399.89" y="890.02" width="4.86" height="1.13" fill="#a3a3a6" stroke="#1c1c1c" stroke-width="0.9"/>
<circle cx="400.03" cy="889.72" r="1.1" fill="#1c1c1c"/>
<circle cx="402.32" cy="889.22" r="1.1" fill="#1c1c1c"/>
<circle cx="404.61" cy="889.72" r="1.1" fill="#1c1c1c"/>
<rect x="408.35" y="838.45" width="4.86" height="52.7" fill="#078107" stroke="#0d2a0d" stroke-width="0.8"/>
<path d="M410.78 817.23V859.06M409.09 817.23H412.47M409.09 859.06H412.47" stroke="#1c1c1c" stroke-width="1" fill="none"/>
<circle cx="410.78" cy="820.37" r="1.1" fill="#1c1c1c"/>
<circle cx="410.78" cy="832.92" r="1.1" fill="#1c1c1c"/>
<circle cx="410.78" cy="861.15" r="1.1" fill="#1c1c1c"/>
<rect x="422.64" y="890.02" width="4.86" height="1.13" fill="#a3a3a6" stroke="#1c1c1c" stroke-width="0.9"/>
<circle cx="422.78" cy="889.72" r="1.1" fill="#1c1c1c"/>
<circle cx="425.07" cy="889.22" r="1.1" fill="#1c1c1c"/>
<circle cx="427.36" cy="889.72" r="1.1" fill="#1c1c1c"/>
<rect x="431.1" y="837.59" width="4.86" height="53.56" fill="#078107" stroke="#0d2a0d" stroke-width="0.8"/>
<path d="M433.53 815.23V859.35M431.84 815.23H435.22M431.84 859.35H435.22" stroke="#1c1c1c" stroke-width="1" fill="none"/>
<circle cx="433.53" cy="812.58" r="1.1" fill="#1c1c1c"/>
<circle cx="433.53" cy="847.22" r="1.1" fill="#1c1c1c"/>
<circle cx="433.53" cy="852.07" r="1.1" fill="#1c1c1c"/>
<rect x="445.39" y="889.44" width="4.86" height="1.71" fill="#a3a3a6" stroke="#1c1c1c" stroke-width="0.9"/>
<circle cx="445.53" cy="889.14" r="1.1" fill="#1c1c1c"/>
<circle cx="447.82" cy="888.64" r="1.1" fill="#1c1c1c"/>
<circle cx="450.11" cy="889.14" r="1.1" fill="#1c1c1c"/>
<rect x="453.85" y="822.4" width="4.86" height="68.75" fill="#078107" stroke="#0d2a0d" stroke-width="0.8"/>
<path d="M456.28 799.33V844.88M454.59 799.33H457.97M454.59 844.88H457.97" stroke="#1c1c1c" stroke-width="1" fill="none"/>
<circle cx="456.28" cy="797.05" r="1.1" fill="#1c1c1c"/>
<circle cx="456.28" cy="828.94" r="1.1" fill="#1c1c1c"/>
<circle cx="456.28" cy="840.32" r="1.1" fill="#1c1c1c"/>
<circle cx="468.28" cy="891.15" r="1.1" fill="#1c1c1c"/>
<circle cx="470.57" cy="891.15" r="1.1" fill="#1c1c1c"/>
<circle cx="472.86" cy="891.15" r="1.1" fill="#1c1c1c"/>
<circle cx="476.74" cy="891.15" r="1.1" fill="#1c1c1c"/>
<circle cx="479.03" cy="891.15" r="1.1" fill="#1c1c1c"/>
<circle cx="481.32" cy="891.15" r="1.1" fill="#1c1c1c"/>
<circle cx="491.03" cy="891.15" r="1.1" fill="#1c1c1c"/>
<circle cx="493.32" cy="891.15" r="1.1" fill="#1c1c1c"/>
<circle cx="495.61" cy="891.15" r="1.1" fill="#1c1c1c"/>
<circle cx="499.49" cy="891.15" r="1.1" fill="#1c1c1c"/>
<circle cx="501.78" cy="891.15" r="1.1" fill="#1c1c1c"/>
<circle cx="504.07" cy="891.15" r="1.1" fill="#1c1c1c"/>
<path d="M374.5 776.05V891.65M366.8 891.15H509" stroke="#1c1c1c" stroke-width="1" fill="none"/>
<text x="364.8" y="894.6" text-anchor="end" class="t">0</text>
<text x="364.8" y="865.95" text-anchor="end" class="t">10</text>
<text x="364.8" y="837.3" text-anchor="end" class="t">20</text>
<text x="364.8" y="808.65" text-anchor="end" class="t">30</text>
<text x="364.8" y="780" text-anchor="end" class="t">40</text>
<text transform="translate(386.48 908.01) rotate(-45)" text-anchor="end" class="t">A1</text>
<text transform="translate(409.23 908.01) rotate(-45)" text-anchor="end" class="t">A3</text>
<text transform="translate(431.98 908.01) rotate(-45)" text-anchor="end" class="t">A4</text>
<text transform="translate(454.73 908.01) rotate(-45)" text-anchor="end" class="t">A8</text>
<text transform="translate(476.48 906.12) rotate(-45)" text-anchor="end" class="t">A15</text>
<text transform="translate(499.23 906.12) rotate(-45)" text-anchor="end" class="t">A16</text>
<path d="M366.8 862.5H374.5M366.8 833.85H374.5M366.8 805.2H374.5M366.8 776.55H374.5M383.8 891.15V896.35M406.55 891.15V896.35M429.3 891.15V896.35M452.05 891.15V896.35M474.8 891.15V896.35M497.55 891.15V896.35" stroke="#1c1c1c" stroke-width="1" fill="none"/>
<text transform="translate(348.4 833.85) rotate(-90)" text-anchor="middle" class="t" style="font-size:9.55px">A to G efficiency (%)</text>
<text x="435.6" y="775.45" text-anchor="middle" class="tb"><tspan font-style="italic">VEGFA</tspan>-6</text>
<text x="441.75" y="928.9" text-anchor="middle" class="t" style="font-size:9.5px">ACAATCCAGGCCGGAA</text>
</g>
<g>
<rect x="552.94" y="890.99" width="4.86" height="0.16" fill="#a3a3a6" stroke="#1c1c1c" stroke-width="0.9"/>
<circle cx="553.08" cy="890.69" r="1.1" fill="#1c1c1c"/>
<circle cx="555.37" cy="890.69" r="1.1" fill="#1c1c1c"/>
<circle cx="557.66" cy="890.69" r="1.1" fill="#1c1c1c"/>
<rect x="561.4" y="885.38" width="4.86" height="5.77" fill="#078107" stroke="#0d2a0d" stroke-width="0.8"/>
<circle cx="561.54" cy="885.08" r="1.1" fill="#1c1c1c"/>
<circle cx="563.83" cy="884.58" r="1.1" fill="#1c1c1c"/>
<circle cx="566.12" cy="885.08" r="1.1" fill="#1c1c1c"/>
<rect x="575.69" y="890.99" width="4.86" height="0.16" fill="#a3a3a6" stroke="#1c1c1c" stroke-width="0.9"/>
<circle cx="575.83" cy="890.69" r="1.1" fill="#1c1c1c"/>
<circle cx="578.12" cy="890.69" r="1.1" fill="#1c1c1c"/>
<circle cx="580.41" cy="890.69" r="1.1" fill="#1c1c1c"/>
<rect x="584.15" y="879.19" width="4.86" height="11.96" fill="#078107" stroke="#0d2a0d" stroke-width="0.8"/>
<path d="M586.58 877.74V880.03M584.89 877.74H588.27M584.89 880.03H588.27" stroke="#1c1c1c" stroke-width="1" fill="none"/>
<circle cx="584.29" cy="878.89" r="1.1" fill="#1c1c1c"/>
<circle cx="586.58" cy="878.39" r="1.1" fill="#1c1c1c"/>
<circle cx="588.87" cy="878.89" r="1.1" fill="#1c1c1c"/>
<rect x="598.44" y="888.24" width="4.86" height="2.91" fill="#a3a3a6" stroke="#1c1c1c" stroke-width="0.9"/>
<path d="M600.87 886.22V889.66M599.18 886.22H602.56M599.18 889.66H602.56" stroke="#1c1c1c" stroke-width="1" fill="none"/>
<circle cx="598.58" cy="887.94" r="1.1" fill="#1c1c1c"/>
<circle cx="600.87" cy="887.44" r="1.1" fill="#1c1c1c"/>
<circle cx="603.16" cy="887.94" r="1.1" fill="#1c1c1c"/>
<rect x="606.9" y="813.75" width="4.86" height="77.4" fill="#078107" stroke="#0d2a0d" stroke-width="0.8"/>
<path d="M609.33 809.67V817.23M607.64 809.67H611.02M607.64 817.23H611.02" stroke="#1c1c1c" stroke-width="1" fill="none"/>
<circle cx="609.33" cy="809.22" r="1.1" fill="#1c1c1c"/>
<circle cx="609.33" cy="815.15" r="1.1" fill="#1c1c1c"/>
<circle cx="609.33" cy="815.99" r="1.1" fill="#1c1c1c"/>
<rect x="621.19" y="884.69" width="4.86" height="6.46" fill="#a3a3a6" stroke="#1c1c1c" stroke-width="0.9"/>
<path d="M623.62 882.1V886.68M621.93 882.1H625.31M621.93 886.68H625.31" stroke="#1c1c1c" stroke-width="1" fill="none"/>
<circle cx="623.62" cy="881.87" r="1.1" fill="#1c1c1c"/>
<circle cx="623.62" cy="885.08" r="1.1" fill="#1c1c1c"/>
<circle cx="623.62" cy="886.22" r="1.1" fill="#1c1c1c"/>
<rect x="629.65" y="794.38" width="4.86" height="96.77" fill="#078107" stroke="#0d2a0d" stroke-width="0.8"/>
<path d="M632.08 792.02V796.15M630.39 792.02H633.77M630.39 796.15H633.77" stroke="#1c1c1c" stroke-width="1" fill="none"/>
<circle cx="629.79" cy="794.08" r="1.1" fill="#1c1c1c"/>
<circle cx="632.08" cy="793.58" r="1.1" fill="#1c1c1c"/>
<circle cx="634.37" cy="794.08" r="1.1" fill="#1c1c1c"/>
<rect x="643.94" y="889.73" width="4.86" height="1.42" fill="#a3a3a6" stroke="#1c1c1c" stroke-width="0.9"/>
<path d="M646.37 888.74V890.12M644.68 888.74H648.06M644.68 890.12H648.06" stroke="#1c1c1c" stroke-width="1" fill="none"/>
<circle cx="644.08" cy="889.43" r="1.1" fill="#1c1c1c"/>
<circle cx="646.37" cy="888.93" r="1.1" fill="#1c1c1c"/>
<circle cx="648.66" cy="889.43" r="1.1" fill="#1c1c1c"/>
<rect x="652.4" y="859.82" width="4.86" height="31.33" fill="#078107" stroke="#0d2a0d" stroke-width="0.8"/>
<path d="M654.83 857.46V861.58M653.14 857.46H656.52M653.14 861.58H656.52" stroke="#1c1c1c" stroke-width="1" fill="none"/>
<circle cx="652.54" cy="859.52" r="1.1" fill="#1c1c1c"/>
<circle cx="654.83" cy="859.02" r="1.1" fill="#1c1c1c"/>
<circle cx="657.12" cy="859.52" r="1.1" fill="#1c1c1c"/>
<rect x="666.69" y="890.65" width="4.86" height="0.5" fill="#a3a3a6" stroke="#1c1c1c" stroke-width="0.9"/>
<circle cx="666.83" cy="890.35" r="1.1" fill="#1c1c1c"/>
<circle cx="669.12" cy="890.35" r="1.1" fill="#1c1c1c"/>
<circle cx="671.41" cy="890.35" r="1.1" fill="#1c1c1c"/>
<rect x="675.15" y="878.96" width="4.86" height="12.19" fill="#078107" stroke="#0d2a0d" stroke-width="0.8"/>
<path d="M677.58 877.74V879.58M675.89 877.74H679.27M675.89 879.58H679.27" stroke="#1c1c1c" stroke-width="1" fill="none"/>
<circle cx="675.29" cy="878.66" r="1.1" fill="#1c1c1c"/>
<circle cx="677.58" cy="878.16" r="1.1" fill="#1c1c1c"/>
<circle cx="679.87" cy="878.66" r="1.1" fill="#1c1c1c"/>
<path d="M550 776.05V891.65M542.3 891.15H684.5" stroke="#1c1c1c" stroke-width="1" fill="none"/>
<text x="540.3" y="894.6" text-anchor="end" class="t">0</text>
<text x="540.3" y="871.68" text-anchor="end" class="t">20</text>
<text x="540.3" y="848.76" text-anchor="end" class="t">40</text>
<text x="540.3" y="825.84" text-anchor="end" class="t">60</text>
<text x="540.3" y="802.92" text-anchor="end" class="t">80</text>
<text x="540.3" y="780" text-anchor="end" class="t">100</text>
<text transform="translate(562.28 908.01) rotate(-45)" text-anchor="end" class="t">A1</text>
<text transform="translate(585.03 908.01) rotate(-45)" text-anchor="end" class="t">A2</text>
<text transform="translate(607.78 908.01) rotate(-45)" text-anchor="end" class="t">A3</text>
<text transform="translate(630.53 908.01) rotate(-45)" text-anchor="end" class="t">A5</text>
<text transform="translate(653.28 908.01) rotate(-45)" text-anchor="end" class="t">A9</text>
<text transform="translate(675.03 906.12) rotate(-45)" text-anchor="end" class="t">A10</text>
<path d="M542.3 868.23H550M542.3 845.31H550M542.3 822.39H550M542.3 799.47H550M542.3 776.55H550M559.6 891.15V896.35M582.35 891.15V896.35M605.1 891.15V896.35M627.85 891.15V896.35M650.6 891.15V896.35M673.35 891.15V896.35" stroke="#1c1c1c" stroke-width="1" fill="none"/>
<text transform="translate(519.1 833.85) rotate(-90)" text-anchor="middle" class="t" style="font-size:9.55px">A to G efficiency (%)</text>
<text x="611" y="775.45" text-anchor="middle" class="tb"><tspan font-style="italic">VEGFA</tspan>-7</text>
<text x="617.25" y="928.9" text-anchor="middle" class="t" style="font-size:9.5px">AAAGAGGGAATGGGCT</text>
</g>
</svg>
</body>
</html>
